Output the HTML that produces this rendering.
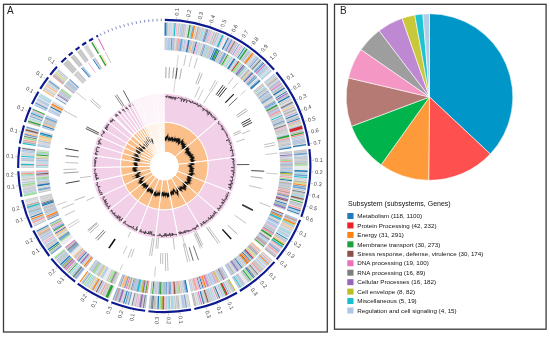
<!DOCTYPE html>
<html><head><meta charset="utf-8"><style>
html,body{margin:0;padding:0;background:#fff;width:550px;height:337px;overflow:hidden;}
</style></head><body>
<svg width="550" height="337" viewBox="0 0 550 337" style="position:absolute;left:0;top:0">
<rect x="3.5" y="4.3" width="323.8" height="327.7" fill="none" stroke="#3a3a3a" stroke-width="1.3"/>
<rect x="334.5" y="4.3" width="211.6" height="324.9" fill="none" stroke="#3a3a3a" stroke-width="1.3"/>
<path fill="#e9ebee" d="M164.7 37.4A128.6 128.6 0 0 1 261.0 81.2L251.4 89.6A115.8 115.8 0 0 0 164.7 50.2ZM164.8 22.4A143.6 143.6 0 0 1 272.3 71.3L262.0 80.3A130.0 130.0 0 0 0 164.8 36.0ZM262.9 83.4A128.6 128.6 0 0 1 291.7 148.2L279.0 150.0A115.8 115.8 0 0 0 253.1 91.6ZM274.4 73.8A143.6 143.6 0 0 1 306.5 146.1L293.1 148.0A130.0 130.0 0 0 0 264.0 82.5ZM292.0 151.1A128.6 128.6 0 0 1 284.9 210.7L272.9 206.3A115.8 115.8 0 0 0 279.3 152.6ZM306.9 149.4A143.6 143.6 0 0 1 298.9 215.9L286.2 211.2A130.0 130.0 0 0 0 293.4 150.9ZM283.8 213.4A128.6 128.6 0 0 1 263.2 248.2L253.3 240.0A115.8 115.8 0 0 0 271.9 208.7ZM297.8 219.0A143.6 143.6 0 0 1 274.7 257.8L264.2 249.1A130.0 130.0 0 0 0 285.1 214.0ZM261.3 250.5A128.6 128.6 0 0 1 230.8 276.1L224.2 265.1A115.8 115.8 0 0 0 251.6 242.0ZM272.6 260.3A143.6 143.6 0 0 1 238.6 288.9L231.5 277.3A130.0 130.0 0 0 0 262.3 251.4ZM228.3 277.5A128.6 128.6 0 0 1 190.7 291.9L188.1 279.3A115.8 115.8 0 0 0 221.9 266.4ZM235.8 290.5A143.6 143.6 0 0 1 193.8 306.5L191.0 293.2A130.0 130.0 0 0 0 229.0 278.8ZM187.8 292.4A128.6 128.6 0 0 1 150.3 293.8L151.7 281.1A115.8 115.8 0 0 0 185.5 279.8ZM190.6 307.2A143.6 143.6 0 0 1 148.7 308.7L150.1 295.2A130.0 130.0 0 0 0 188.1 293.8ZM147.4 293.5A128.6 128.6 0 0 1 117.7 285.9L122.3 273.9A115.8 115.8 0 0 0 149.1 280.8ZM145.4 308.4A143.6 143.6 0 0 1 112.3 299.8L117.2 287.2A130.0 130.0 0 0 0 147.2 294.9ZM115.0 284.8A128.6 128.6 0 0 1 88.1 269.6L95.7 259.3A115.8 115.8 0 0 0 119.9 272.9ZM109.2 298.6A143.6 143.6 0 0 1 79.2 281.7L87.2 270.7A130.0 130.0 0 0 0 114.4 286.1ZM85.7 267.8A128.6 128.6 0 0 1 64.9 247.5L74.8 239.4A115.8 115.8 0 0 0 93.6 257.7ZM76.6 279.7A143.6 143.6 0 0 1 53.3 257.1L63.8 248.4A130.0 130.0 0 0 0 84.9 268.9ZM63.0 245.3A128.6 128.6 0 0 1 49.0 222.9L60.4 217.2A115.8 115.8 0 0 0 73.1 237.4ZM51.2 254.5A143.6 143.6 0 0 1 35.5 229.5L47.7 223.5A130.0 130.0 0 0 0 61.9 246.1ZM47.7 220.2A128.6 128.6 0 0 1 39.2 195.9L51.7 192.9A115.8 115.8 0 0 0 59.3 214.8ZM34.1 226.6A143.6 143.6 0 0 1 24.6 199.4L37.9 196.2A130.0 130.0 0 0 0 46.4 220.8ZM38.6 193.1A128.6 128.6 0 0 1 35.8 170.6L48.6 170.1A115.8 115.8 0 0 0 51.1 190.4ZM23.9 196.2A143.6 143.6 0 0 1 20.8 171.1L34.4 170.7A130.0 130.0 0 0 0 37.2 193.4ZM35.7 167.7A128.6 128.6 0 0 1 36.8 149.1L49.5 150.8A115.8 115.8 0 0 0 48.5 167.5ZM20.7 167.9A143.6 143.6 0 0 1 21.9 147.1L35.4 148.9A130.0 130.0 0 0 0 34.3 167.7ZM37.2 146.2A128.6 128.6 0 0 1 40.8 130.2L53.1 133.8A115.8 115.8 0 0 0 49.9 148.2ZM22.4 143.9A143.6 143.6 0 0 1 26.4 126.1L39.4 129.8A130.0 130.0 0 0 0 35.8 146.0ZM41.6 127.4A128.6 128.6 0 0 1 46.6 114.2L58.3 119.4A115.8 115.8 0 0 0 53.8 131.3ZM27.3 122.9A143.6 143.6 0 0 1 32.9 108.2L45.3 113.6A130.0 130.0 0 0 0 40.3 127.0ZM47.8 111.5A128.6 128.6 0 0 1 53.6 100.6L64.6 107.1A115.8 115.8 0 0 0 59.4 117.0ZM34.2 105.2A143.6 143.6 0 0 1 40.6 93.0L52.3 99.9A130.0 130.0 0 0 0 46.5 111.0ZM55.1 98.1A128.6 128.6 0 0 1 62.1 88.0L72.2 95.7A115.8 115.8 0 0 0 65.9 104.9ZM42.3 90.2A143.6 143.6 0 0 1 50.1 78.9L61.0 87.1A130.0 130.0 0 0 0 53.9 97.4ZM63.9 85.7A128.6 128.6 0 0 1 69.9 78.7L79.3 87.4A115.8 115.8 0 0 0 73.9 93.7ZM52.2 76.3A143.6 143.6 0 0 1 58.9 68.5L68.8 77.8A130.0 130.0 0 0 0 62.8 84.8Z"/>
<path fill="#c4c4c4" d="M63.1 64.1A143.6 143.6 0 0 1 67.8 59.6L77.0 69.7A130.0 130.0 0 0 0 72.7 73.8ZM70.5 57.3A143.6 143.6 0 0 1 74.1 54.2L82.7 64.8A130.0 130.0 0 0 0 79.4 67.6Z"/>
<path fill="#cfcfcf" d="M73.7 74.7A128.6 128.6 0 0 1 77.9 70.7L86.5 80.2A115.8 115.8 0 0 0 82.7 83.8Z"/>
<path fill="#c6c6c6" d="M77.1 51.9A143.6 143.6 0 0 1 80.9 49.1L88.8 60.2A130.0 130.0 0 0 0 85.3 62.7Z"/>
<path fill="#dadada" d="M83.6 47.2A143.6 143.6 0 0 1 87.6 44.6L94.8 56.1A130.0 130.0 0 0 0 91.2 58.5Z"/>
<path stroke="#c7c7c7" stroke-width="1.0" d="M165.1 50.0L165.2 37.6M183.9 51.7L186.0 39.5M193.5 39.1L196.5 26.3M223.5 50.0L229.5 38.3M236.1 57.4L243.4 46.4M265.3 83.8L275.5 75.5M270.0 90.0L280.8 82.3M278.9 104.1L290.5 97.8M291.9 140.0L304.8 137.4M292.5 188.7L305.5 191.0M290.7 197.4L303.5 200.6M268.7 216.6L279.8 222.0M226.5 263.9L233.1 274.4M257.4 257.0L266.9 266.2M247.3 266.3L255.8 276.5M190.2 279.1L192.9 291.2M180.2 280.9L181.9 293.2M156.1 281.7L155.2 294.1M187.7 294.1L190.1 307.1M130.2 291.7L126.8 304.4M124.4 289.9L120.4 302.5M118.5 272.6L113.6 284.0M110.6 284.6L105.2 296.6M94.5 275.9L87.4 287.0M79.8 265.1L71.3 275.1M56.5 208.8L45.0 213.4M52.2 196.0L40.3 199.2M69.9 98.6L59.8 91.4"/>
<path stroke="#aec7e8" stroke-width="1.0" d="M166.1 50.0L166.3 37.6M207.8 58.5L212.5 47.0M169.7 35.9L170.2 22.7M291.6 138.6L304.5 135.8M266.7 220.5L277.6 226.3M250.8 243.3L260.1 251.5M250.6 263.5L259.4 273.4M210.0 272.6L214.9 284.0M188.8 279.4L191.5 291.5M158.9 281.9L158.4 294.3M106.9 266.8L100.7 277.6M98.1 278.1L91.4 289.5M84.4 268.8L76.3 279.2M56.1 238.5L45.2 245.8M55.2 237.1L44.2 244.3M52.7 233.1L41.4 239.9M36.2 189.3L23.2 191.7M34.8 152.9L21.6 151.6M59.4 116.5L48.2 111.2M63.5 108.7L52.7 102.6M48.6 106.2L36.9 100.2M57.7 91.2L46.9 83.7M90.9 76.2L83.0 66.6M100.9 68.9L94.1 58.5"/>
<path stroke="#c7c7c7" stroke-width="1.4" d="M167.7 50.1L168.1 37.7M205.0 57.4L209.4 45.8M177.8 36.5L179.2 23.4M251.1 69.0L259.9 59.1M253.5 91.8L263.0 83.9M257.4 96.8L267.4 89.4M275.2 132.0L287.1 128.3M275.6 133.4L287.5 129.9M278.4 145.1L290.6 142.9M279.5 105.4L291.2 99.3M292.4 142.5L305.3 140.1M279.6 153.0L291.9 151.6M280.2 170.2L292.6 170.6M280.7 224.4L292.5 230.3M274.6 235.2L285.8 242.2M243.0 251.2L251.4 260.4M248.3 265.5L256.8 275.6M206.1 274.2L210.6 285.8M205.6 289.5L209.8 302.0M201.1 290.9L204.9 303.5M157.4 281.8L156.7 294.2M176.3 295.6L177.5 308.8M150.6 295.5L149.2 308.6M82.6 267.4L74.3 277.6M68.0 253.7L58.3 262.5M55.7 206.8L44.1 211.2M52.9 198.4L41.0 201.9M49.4 182.2L37.2 184.0M34.7 178.4L21.5 179.6M40.2 126.5L27.7 122.5M42.8 119.3L30.5 114.5M58.8 89.7L48.1 82.0M76.2 90.5L66.8 82.5"/>
<path stroke="#aec7e8" stroke-width="1.6" d="M168.7 50.1L169.2 37.7M172.4 50.3L173.3 37.9M181.2 51.2L183.0 39.0M182.5 37.1L184.3 24.0M213.7 45.6L218.8 33.3M265.9 110.0L276.8 104.0M289.1 128.9L301.8 125.2M292.6 143.6L305.6 141.3M280.3 168.6L292.7 168.9M271.4 210.4L282.9 215.2M266.1 221.6L277.0 227.5M285.1 214.5L297.4 219.4M282.3 221.1L294.2 226.7M233.1 259.4L240.4 269.4M225.4 264.6L232.0 275.1M141.6 279.8L139.2 291.9M136.8 278.7L133.9 290.7M51.8 231.5L40.4 238.2M44.1 216.1L31.9 221.1M48.5 171.9L36.1 172.6M46.5 110.5L34.6 104.8"/>
<path stroke="#b8c4d0" stroke-width="1.0" d="M169.7 50.1L170.3 37.7M202.7 56.5L206.8 44.8M229.2 69.9L236.2 59.6M197.8 40.2L201.2 27.4M234.9 56.6L242.1 45.5M273.0 94.3L284.0 87.0M279.7 154.1L292.0 152.9M274.8 201.4L286.6 205.2M292.0 191.2L305.0 193.8M245.8 248.5L254.6 257.3M219.0 284.2L224.5 296.1M174.5 295.8L175.6 309.0M118.7 288.0L114.1 300.3M89.2 272.4L81.6 283.2M68.8 254.5L59.1 263.5M67.2 229.5L56.8 236.3M55.3 205.6L43.6 209.9M50.5 188.5L38.3 191.0M50.2 186.7L38.0 188.9M38.0 134.3L25.2 131.1M67.0 79.5L57.1 70.7M67.9 78.5L58.1 69.7"/>
<path stroke="#17becf" stroke-width="1.0" d="M171.1 50.2L171.8 37.8M270.9 120.2L282.3 115.3M233.7 276.2L240.7 287.3M169.0 281.9L169.5 294.3M51.8 137.5L39.8 134.5"/>
<path stroke="#c5b0d5" stroke-width="1.1" d="M173.4 50.4L174.4 38.0M220.3 64.4L226.3 53.6M230.9 54.1L237.7 42.8M137.9 293.5L135.3 306.4"/>
<path stroke="#d6d6d6" stroke-width="1.0" d="M174.4 50.4L175.5 38.1M187.6 52.4L190.0 40.2M197.6 54.9L201.1 43.0M249.0 86.7L258.0 78.2M185.9 37.6L188.1 24.6M216.2 46.6L221.5 34.5M270.4 119.2L281.8 114.2M276.5 136.4L288.4 133.2M280.4 107.0L292.1 101.0M294.1 156.4L307.3 155.5M294.4 172.0L307.5 172.6M240.3 271.7L248.0 282.5M119.4 273.0L114.6 284.4M38.7 200.3L26.0 203.7M38.3 198.6L25.5 201.9M34.8 179.5L21.7 180.8M49.2 151.6L36.9 150.0M34.6 154.3L21.5 153.1M38.6 132.0L25.9 128.5M60.8 113.6L49.7 108.1M50.1 103.5L38.5 97.2M55.7 94.2L44.7 86.9"/>
<path stroke="#c7c7c7" stroke-width="1.1" d="M175.8 50.6L177.0 38.2M192.2 53.4L195.1 41.4M245.9 83.5L254.6 74.7M184.0 37.3L186.0 24.3M199.2 40.6L202.8 27.9M243.7 62.8L251.7 52.3M264.0 106.8L274.7 100.5M271.9 122.7L283.4 118.0M276.1 135.0L288.0 131.6M266.1 84.9L276.5 76.7M292.8 144.7L305.8 142.6M278.5 186.1L290.8 188.3M294.4 160.2L307.6 159.6M262.2 251.8L272.1 260.6M191.8 278.7L194.8 290.7M226.4 280.4L232.7 292.0M196.7 292.1L200.0 304.9M181.7 280.7L183.6 292.9M171.1 296.0L171.8 309.2M146.3 280.6L144.4 292.9M125.9 290.4L122.0 303.0M103.4 264.7L96.9 275.3M109.4 284.0L103.8 296.0M95.7 276.6L88.7 287.9M57.6 240.6L46.8 248.2M51.8 194.4L39.8 197.4M42.2 211.2L29.8 215.7M50.8 190.0L38.7 192.6M35.4 184.7L22.4 186.6M55.5 125.6L43.9 121.3M54.9 95.4L43.8 88.3M74.7 92.3L65.1 84.4M77.5 89.0L68.3 80.8"/>
<path stroke="#ff9896" stroke-width="1.4" d="M177.1 50.7L178.5 38.4M269.1 116.2L280.3 110.9M251.8 262.5L260.6 272.2"/>
<path stroke="#b5b5b5" stroke-width="1.1" d="M178.5 50.9L180.0 38.6M200.1 55.7L203.9 43.9M269.4 215.1L280.6 220.3M263.9 225.4L274.6 231.8M193.1 293.0L196.0 305.9M177.7 295.5L179.1 308.6M169.2 296.1L169.7 309.3M104.5 265.4L98.1 276.0M76.1 261.8L67.2 271.5M54.9 204.5L43.2 208.6M56.4 123.4L44.9 118.8M68.4 100.7L58.1 93.8"/>
<path stroke="#6fa0d0" stroke-width="1.6" d="M179.9 51.1L181.6 38.8M219.3 63.9L225.2 53.0M225.7 51.2L231.9 39.5M274.1 203.5L285.8 207.5M294.0 154.6L307.1 153.4M292.8 186.8L305.9 188.9M160.0 281.9L159.6 294.3M152.4 295.7L151.2 308.8M68.9 232.0L58.7 239.0M37.3 137.2L24.5 134.3M47.4 108.7L35.5 102.9"/>
<path stroke="#aec7e8" stroke-width="1.2" d="M182.9 51.5L184.9 39.3M196.1 54.5L199.6 42.5M208.7 58.8L213.4 47.4M179.7 36.7L181.3 23.6M224.5 50.6L230.6 38.9M260.3 100.9L270.6 94.0M264.4 82.7L274.6 74.3M280.3 165.6L292.7 165.6M280.2 171.4L292.6 172.0M230.0 261.6L237.0 271.9M221.7 266.8L227.8 277.6M217.7 284.8L223.1 296.8M208.0 288.7L212.4 301.1M183.1 280.5L185.1 292.7M108.0 267.4L102.0 278.3M100.8 279.7L94.4 291.2M89.8 254.9L81.9 264.5M65.3 250.6L55.3 259.1M63.1 222.8L52.3 228.8M34.9 151.6L21.8 150.1M57.4 120.9L46.0 116.0M75.5 91.4L66.0 83.4"/>
<path stroke="#f7b6d2" stroke-width="1.2" d="M185.4 51.9L187.7 39.8"/>
<path stroke="#1f77b4" stroke-width="1.4" d="M186.6 52.2L189.0 40.0M211.7 60.1L216.8 48.8M165.2 35.8L165.3 22.6M273.5 95.1L284.6 88.0M278.0 102.6L289.6 96.2M294.4 170.8L307.6 171.3M185.1 280.1L187.4 292.3M70.0 255.7L60.4 264.8M58.6 242.1L47.9 249.8"/>
<path stroke="#b8c4d0" stroke-width="1.4" d="M188.5 52.6L191.1 40.4M191.2 53.2L194.1 41.1M234.8 73.9L242.3 64.0M209.9 44.1L214.6 31.7M261.0 101.9L271.3 95.0M271.5 121.8L283.0 117.0M290.2 132.7L302.9 129.4M294.4 161.7L307.6 161.2M255.0 238.3L264.7 246.0M283.9 217.6L296.0 222.8M241.4 270.9L249.3 281.5M236.2 274.5L243.5 285.5M232.5 276.9L239.5 288.1M152.1 281.4L150.8 293.7M96.6 260.2L89.4 270.3M49.2 180.7L36.9 182.3M50.5 143.3L38.4 140.9"/>
<path stroke="#ffbb78" stroke-width="1.0" d="M189.6 52.8L192.3 40.7M282.2 110.7L294.1 105.1M50.9 141.6L38.8 139.0"/>
<path stroke="#1f77b4" stroke-width="1.1" d="M193.4 53.7L196.5 41.7M213.9 61.2L219.3 50.0M222.4 49.5L228.3 37.7M285.7 118.9L298.0 114.1M287.1 122.8L299.6 118.4M293.0 146.6L306.1 144.6M279.6 179.2L291.9 180.6M234.6 258.3L242.1 268.1M214.6 286.1L219.7 298.3M200.1 291.2L203.7 303.9M127.3 290.8L123.6 303.5M86.5 252.1L78.2 261.3M65.7 227.1L55.1 233.6M53.6 200.7L41.8 204.4M42.8 212.8L30.5 217.5M54.2 129.4L42.4 125.5M61.4 112.4L50.4 106.7"/>
<path stroke="#f7b6d2" stroke-width="1.4" d="M194.6 54.0L197.8 42.1M274.8 130.7L286.6 126.9M164.8 296.2L164.9 309.4M139.5 293.8L137.0 306.8M44.2 115.7L32.1 110.6"/>
<path stroke="#d6d6d6" stroke-width="1.4" d="M198.6 55.2L202.2 43.3M168.6 35.9L169.0 22.7M247.4 65.8L255.8 55.6M274.6 96.7L285.7 89.7M266.8 246.2L277.2 254.4M247.4 246.9L256.3 255.6M228.6 262.5L235.5 272.9M34.5 176.7L21.4 177.8M34.1 167.2L20.9 167.4M52.5 134.9L40.6 131.6"/>
<path stroke="#6fa0d0" stroke-width="1.1" d="M201.3 56.0L205.2 44.3M237.1 75.7L244.9 66.1M204.1 42.0L208.1 29.5M268.7 243.8L279.2 251.7M184.2 280.3L186.4 292.5M134.3 278.1L131.1 290.0M78.5 244.0L69.3 252.4M77.7 243.2L68.4 251.4M50.3 187.6L38.1 189.9"/>
<path stroke="#9edae5" stroke-width="1.6" d="M203.9 57.0L208.1 45.3M238.6 59.1L246.1 48.2M291.3 194.5L304.2 197.4M279.3 227.1L290.9 233.3M172.2 296.0L173.0 309.1M168.1 296.1L168.5 309.3M93.2 275.1L86.0 286.1M41.4 208.9L28.9 213.2"/>
<path stroke="#d6d6d6" stroke-width="1.1" d="M205.9 57.7L210.4 46.1M226.8 68.3L233.5 57.9M208.3 43.5L212.7 31.0M212.8 45.2L217.7 32.9M240.5 60.4L248.2 49.7M277.3 139.8L289.4 137.0M283.5 113.5L295.5 108.2M284.4 115.7L296.6 110.6M280.1 158.8L292.5 158.0M273.4 205.4L285.1 209.6M293.8 179.1L307.0 180.4M259.9 231.7L270.1 238.8M279.8 226.0L291.5 232.1M270.3 241.6L281.1 249.3M202.8 275.4L206.9 287.1M216.3 285.3L221.6 297.4M194.9 292.6L198.0 305.4M105.5 282.2L99.6 294.0M45.3 218.9L33.3 224.3M41.1 123.9L28.6 119.6"/>
<path stroke="#c7c7c7" stroke-width="1.6" d="M206.8 58.1L211.4 46.5M215.5 61.9L220.9 50.8M181.0 36.9L182.7 23.8M196.4 39.8L199.7 27.0M229.6 53.3L236.2 41.9M259.8 100.1L270.0 93.1M262.3 103.9L272.8 97.3M267.0 112.0L277.9 106.2M269.8 117.8L281.1 112.6M273.4 126.7L285.1 122.5M278.0 143.1L290.2 140.7M280.3 166.9L292.7 167.0M280.0 174.9L292.3 175.8M279.0 183.1L291.3 185.0M293.8 152.8L307.0 151.4M294.3 158.7L307.5 157.9M291.7 192.9L304.6 195.6M254.0 260.3L263.1 269.9M252.9 261.4L261.8 271.1M202.9 290.4L206.8 303.0M176.2 281.4L177.4 293.7M182.6 294.9L184.4 308.0M108.2 283.5L102.5 295.4M66.5 251.9L56.6 260.6M60.5 244.6L50.0 252.6M56.7 239.4L45.8 246.8M50.9 229.9L39.4 236.4M49.0 226.5L37.3 232.7M40.1 204.9L27.5 208.9M35.9 187.5L22.9 189.7M70.5 97.8L60.4 90.5"/>
<path stroke="#1f77b4" stroke-width="1.0" d="M210.2 59.5L215.2 48.1M247.8 85.5L256.8 76.9M237.4 58.3L244.8 47.3M254.9 72.5L264.1 63.0M275.5 98.2L286.8 91.4M280.1 172.4L292.5 173.1M275.1 200.5L286.9 204.1M287.0 209.7L299.4 214.1M276.1 232.7L287.5 239.4M242.2 252.0L250.5 261.2M199.4 276.6L203.2 288.4M196.9 277.3L200.4 289.2M48.4 225.3L36.6 231.3M43.3 118.0L31.0 113.1M89.4 77.4L81.4 68.0M99.9 69.5L93.0 59.2"/>
<path stroke="#2ca02c" stroke-width="1.2" d="M212.8 60.6L218.0 49.3M290.9 135.7L303.8 132.6M161.0 282.0L160.6 294.3"/>
<path stroke="#b5b5b5" stroke-width="1.0" d="M216.9 62.6L222.6 51.6M242.4 61.8L250.3 51.3M254.5 93.0L264.1 85.2M278.6 146.4L290.8 144.3M289.7 201.0L302.4 204.5M220.3 267.6L226.3 278.4M192.0 293.2L194.8 306.1M48.3 165.4L35.9 165.4M48.5 159.1L36.1 158.4"/>
<path stroke="#aec7e8" stroke-width="1.1" d="M218.2 63.3L224.0 52.3M230.6 70.8L237.6 60.6M238.9 77.2L246.9 67.7M201.9 41.3L205.7 28.7M258.9 98.9L269.1 91.8M278.9 148.1L291.2 146.2M281.4 109.2L293.3 103.4M292.2 141.4L305.1 138.9M294.2 157.5L307.4 156.6M258.3 234.0L268.3 241.3M257.3 235.3L267.3 242.7M278.7 228.3L290.2 234.6M258.2 256.2L267.7 265.3M256.1 258.3L265.4 267.7M216.8 269.4L222.4 280.5M208.7 273.2L213.5 284.6M207.7 273.6L212.3 285.1M120.7 288.7L116.3 301.1M101.1 263.3L94.3 273.7M98.0 261.2L90.9 271.3M67.3 252.8L57.5 261.6M57.0 210.1L45.5 214.8M40.5 206.4L28.0 210.5M49.7 147.8L37.5 145.8M49.9 146.5L37.7 144.5"/>
<path stroke="#2ca02c" stroke-width="1.1" d="M221.7 65.2L227.8 54.4M242.8 269.9L250.8 280.4M220.5 283.5L226.2 295.4M153.8 281.5L152.7 293.9M147.6 280.8L145.8 293.1"/>
<path stroke="#98df8a" stroke-width="1.0" d="M222.6 65.7L228.9 55.0M237.9 76.3L245.7 66.7M279.7 178.1L292.0 179.4M113.8 270.4L108.4 281.6"/>
<path stroke="#d6d6d6" stroke-width="1.6" d="M224.0 66.5L230.4 55.9M274.0 128.2L285.7 124.2M278.2 144.1L290.4 141.8M267.7 86.8L278.2 78.8M276.6 195.1L288.6 198.2M293.9 178.1L307.1 179.3M173.5 295.9L174.4 309.0M157.5 296.0L156.8 309.2M136.5 293.2L133.7 306.1M102.4 264.1L95.8 274.6M114.0 286.1L108.8 298.2M90.6 255.6L82.7 265.1M87.7 253.1L79.5 262.4M52.6 197.3L40.7 200.7M38.0 197.4L25.1 200.6M48.7 176.1L36.4 177.2M35.7 186.0L22.6 188.1M34.2 171.8L21.0 172.4M50.2 144.9L38.0 142.7"/>
<path stroke="#9edae5" stroke-width="1.2" d="M225.4 67.4L231.9 56.9M200.5 40.9L204.1 28.2M294.3 173.1L307.5 173.9M78.6 264.0L69.9 274.0M48.3 167.1L35.9 167.2M51.5 101.0L40.1 94.4"/>
<path stroke="#1f77b4" stroke-width="1.6" d="M227.9 69.0L234.7 58.6M244.1 81.8L252.7 72.9M250.8 88.8L260.1 80.5M49.7 183.7L37.4 185.6"/>
<path stroke="#d62728" stroke-width="1.2" d="M231.6 71.5L238.8 61.4M244.8 249.5L253.4 258.4"/>
<path stroke="#98df8a" stroke-width="1.4" d="M232.4 72.1L239.7 62.1M294.5 165.0L307.7 164.9M165.3 282.0L165.4 294.4M160.4 296.1L160.0 309.3M100.2 262.7L93.4 273.0M70.3 234.0L60.3 241.3M35.2 183.2L22.2 185.0"/>
<path stroke="#98df8a" stroke-width="1.1" d="M233.4 72.8L240.8 62.9M280.2 160.7L292.6 160.2M282.8 220.0L294.8 225.5M244.3 268.7L252.4 279.2M177.5 281.2L179.0 293.6M115.0 271.0L109.7 282.2M61.4 219.6L50.4 225.4M34.4 174.3L21.2 175.1M71.2 96.8L61.3 89.3"/>
<path stroke="#9467bd" stroke-width="1.4" d="M236.0 74.8L243.7 65.1M88.7 254.0L80.6 263.4"/>
<path stroke="#d6d6d6" stroke-width="1.2" d="M240.1 78.2L248.2 68.8M171.3 36.0L172.0 22.8M215.3 46.2L220.4 34.0M263.2 105.3L273.7 98.8M279.4 180.6L291.7 182.2M275.5 199.1L287.4 202.6M260.7 230.6L271.0 237.5M254.9 259.5L264.1 269.0M194.7 277.9L198.0 289.9M171.2 281.8L171.9 294.2M186.0 294.4L188.2 307.4M133.1 277.7L129.7 289.7M49.9 185.3L37.7 187.3M48.4 161.7L36.0 161.2M47.9 107.6L36.1 101.7"/>
<path stroke="#b5b5b5" stroke-width="1.6" d="M241.1 79.1L249.3 69.8M283.9 114.6L296.1 109.4M279.2 182.0L291.5 183.7M274.5 202.3L286.2 206.2M248.1 246.2L257.1 254.8M139.3 279.3L136.6 291.4M117.0 271.9L111.9 283.2M73.9 259.7L64.8 269.2M50.2 228.7L38.6 235.1M41.0 207.9L28.5 212.1M36.0 144.0L23.0 141.7M63.7 83.4L53.5 75.0"/>
<path stroke="#dbdb8d" stroke-width="1.2" d="M242.0 79.9L250.3 70.7"/>
<path stroke="#c5b0d5" stroke-width="1.6" d="M243.2 81.0L251.7 71.9M219.1 268.2L225.0 279.2M211.3 272.0L216.3 283.4"/>
<path stroke="#f7b6d2" stroke-width="1.1" d="M244.9 82.6L253.5 73.6M175.9 36.3L177.1 23.2M218.6 47.7L224.1 35.7M234.0 56.0L241.1 44.9M265.5 222.7L276.3 228.8M211.3 287.4L216.0 299.7M48.3 164.3L35.9 164.1"/>
<path stroke="#6fa0d0" stroke-width="1.2" d="M246.8 84.5L255.6 75.7M166.7 35.8L166.9 22.6M190.6 38.5L193.3 25.6M249.7 67.7L258.3 57.7M254.1 71.7L263.2 62.1M264.6 107.7L275.3 101.5M276.9 193.9L288.9 196.9M293.1 185.1L306.1 187.0M263.1 226.8L273.7 233.3M184.3 294.6L186.4 307.7M131.6 292.0L128.3 304.8M129.1 291.3L125.5 304.1M83.5 268.1L75.3 278.4M69.7 233.1L59.6 240.3M59.0 214.6L47.7 219.8M39.0 130.7L26.3 127.1M59.5 88.7L48.9 80.8M78.7 87.7L69.5 79.4"/>
<path stroke="#6fa0d0" stroke-width="1.0" d="M250.0 87.8L259.2 79.5M232.5 55.1L239.4 43.9M258.4 98.2L268.4 90.9M265.2 108.7L275.9 102.6M268.1 217.8L279.2 223.3M248.9 245.4L257.9 253.9M223.0 282.2L229.0 294.0M170.2 281.8L170.8 294.2M166.5 282.0L166.7 294.4M164.0 282.0L164.0 294.4M124.4 274.9L120.1 286.6M117.7 287.6L113.0 299.9M90.2 273.0L82.7 283.9M60.8 218.4L49.8 224.0M42.2 120.8L29.8 116.2M66.0 104.4L55.5 97.9M90.1 76.8L82.2 67.3"/>
<path stroke="#c7c7c7" stroke-width="1.2" d="M173.1 36.1L174.0 22.9M245.9 64.5L254.2 54.3M258.9 76.6L268.5 67.5M286.3 120.5L298.7 115.9M288.3 126.2L300.9 122.2M280.1 159.7L292.5 159.1M293.7 151.4L306.8 149.9M289.0 203.3L301.7 207.1M237.0 256.4L244.7 266.1M214.3 270.7L219.7 281.9M198.2 276.9L201.9 288.8M224.7 281.3L230.8 293.0M206.7 289.1L211.0 301.6M174.9 281.5L176.1 293.9M156.1 295.9L155.3 309.1M143.7 294.6L141.6 307.6M112.4 269.8L106.9 280.9M84.1 249.8L75.5 258.7M53.3 234.1L42.1 241.0M54.4 203.2L42.7 207.2M36.4 190.5L23.5 193.0M34.1 165.6L20.9 165.6M34.5 155.5L21.4 154.5M64.6 82.2L54.5 73.7"/>
<path stroke="#17becf" stroke-width="1.1" d="M174.2 36.2L175.2 23.0M34.1 164.5L20.9 164.4M34.4 157.2L21.2 156.3"/>
<path stroke="#2ca02c" stroke-width="1.4" d="M187.7 37.9L190.1 24.9M239.5 59.7L247.1 48.9M266.4 111.0L277.3 105.1M111.6 285.0L106.2 297.1M40.6 125.2L28.1 121.1"/>
<path stroke="#9edae5" stroke-width="1.4" d="M189.5 38.3L192.1 25.3M257.0 74.6L266.4 65.4M234.9 275.4L242.1 286.5M209.7 288.0L214.3 300.4M80.7 265.9L72.3 276.0M43.7 117.0L31.5 112.0M50.7 102.4L39.1 96.0"/>
<path stroke="#ff7f0e" stroke-width="1.4" d="M191.7 38.7L194.5 25.8M283.3 218.9L295.4 224.2M239.4 254.4L247.4 263.9M99.2 278.8L92.6 290.2M91.9 256.7L84.2 266.3M62.7 110.1L51.8 104.1"/>
<path stroke="#c49c94" stroke-width="1.0" d="M195.2 39.5L198.3 26.7M211.7 44.8L216.6 32.5M267.6 113.2L278.6 107.5M213.0 286.7L218.0 299.0M61.9 220.6L51.0 226.4"/>
<path stroke="#7f7f7f" stroke-width="1.0" d="M203.1 41.7L207.0 29.1M292.2 190.2L305.2 192.7M271.0 211.4L282.4 216.3M246.5 266.9L254.9 277.2M135.0 292.9L132.0 305.7M116.0 271.5L110.8 282.7M53.3 199.8L41.5 203.4M36.9 139.0L24.0 136.3"/>
<path stroke="#aec7e8" stroke-width="1.4" d="M205.5 42.5L209.7 30.0M241.5 61.2L249.3 50.5M248.4 66.6L256.9 56.5M258.0 75.6L267.5 66.5M261.4 79.2L271.2 70.4M268.1 114.2L279.2 108.6M276.8 137.8L288.8 134.8M268.8 88.3L279.4 80.4M280.3 163.1L292.7 162.8M287.5 208.2L299.9 212.5M267.5 219.0L278.5 224.7M238.3 255.3L246.2 264.9M181.4 295.1L183.2 308.2M137.9 279.0L135.1 291.0M146.7 295.0L145.0 308.1M104.0 281.4L97.9 293.1M41.8 210.2L29.4 214.7M48.4 160.8L36.0 160.2M48.9 154.4L36.5 153.2M34.3 159.1L21.1 158.4M53.8 130.8L41.9 127.1M60.1 115.0L49.0 109.6M49.2 105.1L37.6 98.9M69.3 99.5L59.1 92.3M76.9 89.8L67.5 81.6"/>
<path stroke="#f7b6d2" stroke-width="1.6" d="M207.0 43.0L211.4 30.5M227.2 52.0L233.6 40.5M212.3 271.6L217.4 282.9M196.0 277.6L199.3 289.5M62.7 221.9L51.8 227.9M54.3 235.7L43.2 242.8"/>
<path stroke="#17becf" stroke-width="1.6" d="M217.4 47.1L222.8 35.1M269.9 214.1L281.2 219.2M140.3 279.5L137.7 291.6"/>
<path stroke="#7f7f7f" stroke-width="1.1" d="M228.4 52.7L235.0 41.2M259.2 232.7L269.4 239.8M249.4 264.6L258.0 274.6M218.1 268.8L223.8 279.8"/>
<path stroke="#ff7f0e" stroke-width="1.6" d="M244.7 63.6L252.9 53.2"/>
<path stroke="#7f7f7f" stroke-width="1.2" d="M251.9 69.7L260.8 59.9M274.3 129.1L286.0 125.2M153.5 295.8L152.4 308.9M145.3 294.8L143.4 307.9M35.1 150.1L22.0 148.4"/>
<path stroke="#9edae5" stroke-width="1.0" d="M252.9 70.6L261.9 61.0M260.1 77.9L269.9 68.9M271.5 92.2L282.4 84.7M49.0 179.0L36.7 180.4"/>
<path stroke="#e377c2" stroke-width="1.4" d="M256.1 73.6L265.4 64.3"/>
<path stroke="#9edae5" stroke-width="1.1" d="M255.4 94.2L265.2 86.6M277.1 231.0L288.5 237.6M36.7 191.7L23.7 194.3M34.4 175.3L21.3 176.3M48.3 163.1L35.9 162.8M41.6 122.6L29.1 118.2"/>
<path stroke="#b5b5b5" stroke-width="1.2" d="M256.5 95.6L266.3 88.1M272.2 93.2L283.2 85.8M277.2 101.1L288.6 94.5M282.9 112.3L294.9 106.8M290.6 134.3L303.4 131.1M278.3 187.3L290.5 189.6M294.5 163.4L307.7 163.2M232.0 260.2L239.2 270.3M227.3 263.4L234.1 273.8M155.0 295.9L154.0 309.0M141.2 294.1L138.9 307.1M93.1 257.6L85.5 267.4M75.7 240.9L66.2 248.9M74.0 93.2L64.3 85.5"/>
<path stroke="#6fa0d0" stroke-width="1.4" d="M261.7 103.1L272.2 96.3M272.9 125.3L284.5 120.9M294.2 174.8L307.4 175.7M244.0 250.3L252.6 259.3M128.4 276.3L124.6 288.1M71.2 257.1L61.8 266.3M63.7 223.8L53.0 230.0M61.5 245.9L51.1 254.0M56.8 122.3L45.3 117.7"/>
<path stroke="#c5b0d5" stroke-width="1.0" d="M268.6 115.3L279.8 109.9M237.4 273.8L244.8 284.7M204.9 274.7L209.2 286.3M161.9 282.0L161.6 294.4"/>
<path stroke="#b8c4d0" stroke-width="1.2" d="M272.3 123.7L283.9 119.2M289.4 202.1L302.1 205.7M277.8 229.7L289.4 236.2M275.3 234.1L286.5 241.0M235.8 257.3L243.5 267.1M233.9 258.8L241.3 268.8M79.2 244.8L70.1 253.2M46.1 220.5L34.1 226.0M48.9 178.1L36.6 179.4M35.0 181.3L21.9 182.9M55.9 124.8L44.3 120.4"/>
<path stroke="#2ca02c" stroke-width="1.6" d="M277.1 138.8L289.1 135.9M261.2 229.7L271.6 236.5M272.9 237.8L283.9 245.1M163.3 296.2L163.2 309.4M112.6 285.5L107.3 297.6"/>
<path stroke="#ff9896" stroke-width="1.2" d="M277.5 140.8L289.6 138.2M291.2 137.1L304.1 134.1M288.5 205.1L301.1 209.1M44.7 217.4L32.6 222.6M48.4 170.8L36.0 171.3M34.3 173.1L21.1 173.8M36.3 142.4L23.3 140.0"/>
<path stroke="#b8c4d0" stroke-width="1.1" d="M277.8 141.8L289.9 139.2M288.0 125.2L300.5 121.1M262.0 228.6L272.4 235.3M215.7 270.0L221.2 281.1M162.9 282.0L162.7 294.4M154.8 281.6L153.8 294.0M166.2 296.2L166.4 309.4M142.9 280.0L140.6 292.2M83.2 249.0L74.5 257.8"/>
<path stroke="#1f77b4" stroke-width="1.2" d="M279.1 149.5L291.4 147.7M288.0 206.7L300.5 210.9M245.6 267.7L253.8 278.0M158.5 296.1L158.0 309.3M54.0 201.8L42.2 205.6M52.2 136.3L40.2 133.1"/>
<path stroke="#b5b5b5" stroke-width="1.4" d="M267.0 86.0L277.4 77.9M280.3 164.5L292.7 164.3M293.6 181.0L306.8 182.5M256.7 236.1L266.6 243.6M265.0 248.6L275.2 256.9M135.5 278.4L132.4 290.4M99.0 261.9L92.1 272.2"/>
<path stroke="#c5b0d5" stroke-width="1.4" d="M269.4 89.2L280.1 81.4M285.0 117.1L297.2 112.1M269.5 242.7L280.2 250.5M48.6 174.6L36.3 175.5"/>
<path stroke="#e377c2" stroke-width="1.2" d="M270.8 91.0L281.6 83.4M130.0 276.8L126.4 288.7M74.9 239.9L65.3 247.8"/>
<path stroke="#9467bd" stroke-width="1.1" d="M276.4 99.7L287.7 93.0M279.8 155.8L292.2 154.7M273.7 204.4L285.4 208.5"/>
<path stroke="#7f7f7f" stroke-width="1.4" d="M280.9 108.1L292.7 102.2M76.7 242.1L67.4 250.2"/>
<path stroke="#b8c4d0" stroke-width="1.6" d="M286.7 121.7L299.1 117.2M280.0 157.2L292.3 156.2M278.8 184.8L291.0 186.8M264.7 224.2L275.4 230.4M259.8 254.5L269.5 263.4M227.6 279.8L234.0 291.3M123.2 274.5L118.8 286.1M122.0 289.1L117.7 301.6M56.1 207.9L44.6 212.4M34.2 160.6L21.0 160.0M55.1 126.8L43.5 122.6"/>
<path stroke="#ff9896" stroke-width="1.0" d="M287.6 124.2L300.1 119.9M280.2 161.7L292.6 161.2M279.8 176.5L292.2 177.6M278.0 188.9L290.2 191.4M261.0 253.2L270.8 262.0M62.9 84.3L52.6 76.0"/>
<path stroke="#dbdb8d" stroke-width="1.0" d="M288.6 127.3L301.2 123.3M130.9 277.1L127.3 289.0M51.2 140.1L39.1 137.3"/>
<path stroke="#d62728" stroke-width="1.6" d="M289.5 130.2L302.2 126.6M289.9 131.6L302.6 128.1"/>
<path stroke="#bcbd22" stroke-width="1.2" d="M280.1 173.3L292.4 174.1M72.1 257.9L62.8 267.3"/>
<path stroke="#c49c94" stroke-width="1.4" d="M277.7 190.4L289.8 193.0M256.0 237.1L265.7 244.7"/>
<path stroke="#f7b6d2" stroke-width="1.0" d="M277.4 191.8L289.5 194.5M65.1 226.1L54.5 232.5M95.5 72.6L88.2 62.6"/>
<path stroke="#c49c94" stroke-width="1.2" d="M277.2 192.8L289.2 195.7M131.9 277.4L128.5 289.3M39.2 202.0L26.5 205.7"/>
<path stroke="#9467bd" stroke-width="1.2" d="M276.2 196.5L288.2 199.8M230.9 260.9L238.1 271.1M73.0 258.8L63.7 268.2"/>
<path stroke="#8c564b" stroke-width="1.2" d="M275.9 197.7L287.8 201.0M204.2 289.9L208.2 302.5"/>
<path stroke="#17becf" stroke-width="1.2" d="M294.1 176.5L307.2 177.5M35.7 145.5L22.7 143.4"/>
<path stroke="#dbdb8d" stroke-width="1.6" d="M293.5 182.3L306.6 183.9M246.6 247.8L255.4 256.5M105.4 265.9L99.1 276.6M65.7 80.9L55.8 72.3"/>
<path stroke="#ff7f0e" stroke-width="1.0" d="M293.3 183.7L306.4 185.5M259.1 255.3L268.7 264.4"/>
<path stroke="#8c564b" stroke-width="1.4" d="M290.9 196.3L303.8 199.4M173.8 281.6L174.8 294.0M38.3 133.1L25.6 129.7"/>
<path stroke="#2ca02c" stroke-width="1.0" d="M290.2 199.2L302.9 202.6M254.5 239.0L264.1 246.8M77.4 263.0L68.6 272.8M64.3 224.7L53.6 231.0M59.6 243.4L49.0 251.2M48.7 155.9L36.4 154.9M44.8 114.4L32.6 109.2"/>
<path stroke="#8c564b" stroke-width="1.0" d="M272.0 209.2L283.5 213.8M240.2 253.7L248.3 263.1"/>
<path stroke="#ff7f0e" stroke-width="1.1" d="M270.6 212.5L281.9 217.5M241.2 252.9L249.4 262.1M162.0 296.2L161.8 309.4M87.8 271.3L80.0 282.0"/>
<path stroke="#ff9896" stroke-width="1.6" d="M262.5 227.7L273.0 234.3M193.5 278.3L196.6 290.3M148.7 280.9L147.0 293.2"/>
<path stroke="#c49c94" stroke-width="1.6" d="M284.6 215.9L296.8 221.0M119.7 288.3L115.2 300.7M58.3 213.1L47.0 218.1"/>
<path stroke="#ffbb78" stroke-width="1.1" d="M281.5 222.7L293.4 228.5M82.5 248.2L73.7 257.0M37.6 136.1L24.7 133.0"/>
<path stroke="#ffbb78" stroke-width="1.6" d="M273.6 236.8L284.7 243.9M66.4 228.2L55.9 234.9"/>
<path stroke="#17becf" stroke-width="1.4" d="M271.8 239.4L282.7 246.8M39.7 203.7L27.0 207.5"/>
<path stroke="#ff9896" stroke-width="1.1" d="M271.1 240.4L282.0 247.9M267.6 245.2L278.1 253.3M249.8 244.4L258.9 252.8M200.5 276.2L204.3 288.0M178.6 281.1L180.1 293.4M172.8 281.7L173.7 294.1M106.5 282.7L100.6 294.5M85.1 250.7L76.6 259.8"/>
<path stroke="#c5b0d5" stroke-width="1.2" d="M265.8 247.5L276.1 255.8M168.0 281.9L168.4 294.3M85.8 251.4L77.4 260.6"/>
<path stroke="#ffbb78" stroke-width="1.2" d="M251.5 242.5L260.8 250.7M49.7 227.7L38.0 234.0M54.7 128.0L43.0 123.9M62.1 111.2L51.1 105.4M53.9 96.9L42.8 89.9M56.8 92.6L45.8 85.2"/>
<path stroke="#bcbd22" stroke-width="1.0" d="M213.3 271.1L218.5 282.4M228.7 279.2L235.2 290.6"/>
<path stroke="#e377c2" stroke-width="1.6" d="M203.9 275.0L208.1 286.7"/>
<path stroke="#ff7f0e" stroke-width="1.2" d="M201.8 275.8L205.8 287.5M57.6 211.6L46.2 216.5M43.5 214.5L31.2 219.4"/>
<path stroke="#d62728" stroke-width="1.4" d="M221.4 283.0L227.2 294.9"/>
<path stroke="#e377c2" stroke-width="1.1" d="M198.2 291.7L201.7 304.4M74.7 260.5L65.7 270.1M104.5 50.4L98.4 38.6"/>
<path stroke="#9467bd" stroke-width="1.6" d="M144.9 280.4L142.9 292.6M142.4 294.3L140.2 307.4M123.3 289.6L119.2 302.1"/>
<path stroke="#bcbd22" stroke-width="1.4" d="M144.0 280.2L141.8 292.4"/>
<path stroke="#ffbb78" stroke-width="1.4" d="M127.2 275.9L123.2 287.6M126.0 275.5L121.9 287.2M51.5 138.9L39.5 136.0"/>
<path stroke="#8c564b" stroke-width="1.1" d="M102.4 280.6L96.2 292.2M48.5 173.4L36.2 174.2"/>
<path stroke="#dbdb8d" stroke-width="1.1" d="M97.1 277.5L90.3 288.8M68.2 230.9L57.9 237.8M48.6 157.6L36.2 156.7"/>
<path stroke="#98df8a" stroke-width="1.2" d="M91.7 274.1L84.4 285.0M64.6 249.7L54.5 258.2M48.8 177.1L36.5 178.3M49.0 153.2L36.7 151.9"/>
<path stroke="#7f7f7f" stroke-width="1.6" d="M81.7 266.7L73.3 276.9"/>
<path stroke="#98df8a" stroke-width="1.6" d="M36.9 193.0L24.0 195.7M36.6 140.5L23.7 138.0"/>
<path stroke="#9467bd" stroke-width="1.0" d="M67.8 101.7L57.4 94.8"/>
<path stroke="#d8d8d8" stroke-width="0.8" d="M73.8 72.4L64.6 62.9M75.5 70.7L66.5 61.1M80.9 66.0L72.4 55.9M86.9 61.3L79.1 50.7"/>
<path stroke="#dedede" stroke-width="0.8" d="M84.5 81.9L75.9 72.9"/>
<path stroke="#c8c8c8" stroke-width="0.8" d="M92.9 57.1L85.7 46.1"/>
<path stroke="#c49c94" stroke-width="0.9" d="M101.7 68.4L95.0 57.9"/>
<path stroke="#2ca02c" stroke-width="1.3" d="M98.5 53.7L91.8 42.3M105.8 65.8L99.6 55.1"/>
<path stroke="#dcdcdc" stroke-width="1.0" d="M99.9 52.8L93.4 41.4"/>
<path stroke="#ffbb78" stroke-width="0.8" d="M107.1 65.1L101.0 54.3"/>
<path stroke="#bbbbbb" stroke-width="0.8" d="M111.0 63.0L105.3 52.0"/>
<path fill="none" stroke="#0d1a8f" stroke-width="2.15" d="M164.8 19.9A146.1 146.1 0 0 1 274.1 69.7M276.3 72.2A146.1 146.1 0 0 1 309.0 145.8M309.4 149.1A146.1 146.1 0 0 1 301.3 216.8M300.1 219.9A146.1 146.1 0 0 1 276.6 259.4M274.5 261.9A146.1 146.1 0 0 1 239.9 291.0M237.0 292.7A146.1 146.1 0 0 1 194.3 309.0M191.0 309.6A146.1 146.1 0 0 1 148.4 311.2M145.1 310.8A146.1 146.1 0 0 1 111.3 302.2M108.3 300.9A146.1 146.1 0 0 1 77.7 283.7M75.1 281.7A146.1 146.1 0 0 1 51.3 258.6M49.3 256.0A146.1 146.1 0 0 1 33.3 230.6M31.8 227.6A146.1 146.1 0 0 1 22.2 200.0M21.5 196.7A146.1 146.1 0 0 1 18.3 171.2M18.2 167.9A146.1 146.1 0 0 1 19.5 146.8M19.9 143.5A146.1 146.1 0 0 1 24.0 125.4M24.9 122.2A146.1 146.1 0 0 1 30.6 107.2M31.9 104.1A146.1 146.1 0 0 1 38.5 91.7M40.2 88.9A146.1 146.1 0 0 1 48.2 77.4M50.2 74.8A146.1 146.1 0 0 1 57.0 66.8M61.4 62.3A146.1 146.1 0 0 1 66.2 57.8M68.8 55.4A146.1 146.1 0 0 1 72.6 52.3M75.6 49.9A146.1 146.1 0 0 1 79.5 47.1M82.2 45.2A146.1 146.1 0 0 1 86.2 42.5M89.1 40.8A146.1 146.1 0 0 1 93.0 38.5M96.4 36.6A146.1 146.1 0 0 1 98.0 35.8"/>
<path fill="none" stroke="#6d76b4" stroke-width="0.85" d="M101.3 35.6L100.1 33.3M105.0 33.9L104.0 31.5M108.8 32.2L107.8 29.8M112.7 30.7L111.8 28.3M116.6 29.3L115.7 26.8M120.5 28.0L119.7 25.5M124.5 26.8L123.8 24.3M128.5 25.7L127.8 23.2M132.5 24.7L131.9 22.2M136.6 23.9L136.1 21.3M140.7 23.1L140.2 20.6M144.7 22.5L144.4 19.9M148.9 22.0L148.6 19.4M153.0 21.6L152.8 19.1M157.1 21.4L157.0 18.8M161.3 21.2L161.2 18.6"/>
<path stroke="#888" stroke-width="0.5" d="M176.3 18.9L176.4 17.1M187.7 20.3L188.0 18.5M199.0 22.5L199.4 20.8M210.0 25.7L210.6 23.9M220.8 29.6L221.5 28.0M231.2 34.4L232.0 32.8M241.2 40.0L242.2 38.5M250.8 46.4L251.9 44.9M259.8 53.5L261.0 52.1M268.3 61.3L269.6 60.0M284.5 80.3L285.9 79.3M290.8 89.9L292.3 89.0M296.3 100.0L297.9 99.2M301.0 110.4L302.7 109.8M305.0 121.2L306.7 120.7M308.0 132.3L309.8 131.9M310.2 143.6L312.0 143.3M311.8 160.4L313.6 160.3M311.8 171.8L313.6 171.9M310.9 183.3L312.7 183.5M309.1 194.6L310.9 195.0M306.4 205.8L308.2 206.3M302.9 216.7L304.6 217.4M296.8 231.0L298.5 231.8M291.4 241.1L292.9 242.0M285.2 250.7L286.6 251.8M278.2 259.9L279.6 261.0M267.7 271.3L269.0 272.6M259.2 279.0L260.4 280.4M250.2 286.1L251.2 287.5M227.6 299.3L228.4 301.0M217.0 303.9L217.7 305.5M206.1 307.5L206.7 309.3M180.0 312.8L180.1 314.6M168.5 313.5L168.5 315.3M157.0 313.4L156.9 315.2M133.6 310.4L133.2 312.1M122.5 307.5L121.9 309.3M111.6 303.9L110.9 305.5M97.3 297.5L96.5 299.1M87.2 291.9L86.3 293.4M65.3 275.5L64.1 276.8M57.1 267.5L55.8 268.7M41.3 247.7L39.8 248.7M35.4 237.9L33.8 238.7M26.0 217.7L24.4 218.3M22.4 206.8L20.7 207.3M18.0 185.8L16.2 186.0M16.9 174.3L15.1 174.4M17.0 156.4L15.2 156.3M20.7 132.0L18.9 131.6M27.4 110.9L25.7 110.3M35.8 93.3L34.3 92.4M45.4 78.6L43.9 77.5M56.5 65.1L55.2 63.9"/>
<g font-family="Liberation Sans, sans-serif" font-size="5.5" fill="#444"><text x="176.6" y="15.7" transform="rotate(-85.3 176.6 15.7)" text-anchor="start" dy="1.9">0.1</text><text x="188.2" y="17.1" transform="rotate(-80.9 188.2 17.1)" text-anchor="start" dy="1.9">0.2</text><text x="199.7" y="19.4" transform="rotate(-76.4 199.7 19.4)" text-anchor="start" dy="1.9">0.3</text><text x="211.0" y="22.6" transform="rotate(-72.0 211.0 22.6)" text-anchor="start" dy="1.9">0.4</text><text x="222.0" y="26.7" transform="rotate(-67.5 222.0 26.7)" text-anchor="start" dy="1.9">0.5</text><text x="232.7" y="31.6" transform="rotate(-63.0 232.7 31.6)" text-anchor="start" dy="1.9">0.6</text><text x="242.9" y="37.3" transform="rotate(-58.6 242.9 37.3)" text-anchor="start" dy="1.9">0.7</text><text x="252.7" y="43.8" transform="rotate(-54.1 252.7 43.8)" text-anchor="start" dy="1.9">0.8</text><text x="261.9" y="51.1" transform="rotate(-49.7 261.9 51.1)" text-anchor="start" dy="1.9">0.9</text><text x="270.6" y="59.0" transform="rotate(-45.2 270.6 59.0)" text-anchor="start" dy="1.9">1.0</text><text x="287.1" y="78.5" transform="rotate(-35.5 287.1 78.5)" text-anchor="start" dy="1.9">0.1</text><text x="293.5" y="88.3" transform="rotate(-31.0 293.5 88.3)" text-anchor="start" dy="1.9">0.2</text><text x="299.2" y="98.5" transform="rotate(-26.6 299.2 98.5)" text-anchor="start" dy="1.9">0.3</text><text x="304.0" y="109.2" transform="rotate(-22.1 304.0 109.2)" text-anchor="start" dy="1.9">0.4</text><text x="308.0" y="120.3" transform="rotate(-17.7 308.0 120.3)" text-anchor="start" dy="1.9">0.5</text><text x="311.1" y="131.6" transform="rotate(-13.2 311.1 131.6)" text-anchor="start" dy="1.9">0.6</text><text x="313.4" y="143.1" transform="rotate(-8.7 313.4 143.1)" text-anchor="start" dy="1.9">0.7</text><text x="315.0" y="160.2" transform="rotate(-2.2 315.0 160.2)" text-anchor="start" dy="1.9">0.1</text><text x="315.0" y="172.0" transform="rotate(2.3 315.0 172.0)" text-anchor="start" dy="1.9">0.2</text><text x="314.1" y="183.7" transform="rotate(6.7 314.1 183.7)" text-anchor="start" dy="1.9">0.3</text><text x="312.2" y="195.3" transform="rotate(11.2 312.2 195.3)" text-anchor="start" dy="1.9">0.4</text><text x="309.5" y="206.7" transform="rotate(15.7 309.5 206.7)" text-anchor="start" dy="1.9">0.5</text><text x="305.9" y="217.8" transform="rotate(20.1 305.9 217.8)" text-anchor="start" dy="1.9">0.6</text><text x="299.7" y="232.4" transform="rotate(26.1 299.7 232.4)" text-anchor="start" dy="1.9">0.1</text><text x="294.1" y="242.7" transform="rotate(30.6 294.1 242.7)" text-anchor="start" dy="1.9">0.2</text><text x="287.8" y="252.6" transform="rotate(35.0 287.8 252.6)" text-anchor="start" dy="1.9">0.3</text><text x="280.7" y="261.9" transform="rotate(39.5 280.7 261.9)" text-anchor="start" dy="1.9">0.4</text><text x="270.0" y="273.6" transform="rotate(45.5 270.0 273.6)" text-anchor="start" dy="1.9">0.1</text><text x="261.3" y="281.5" transform="rotate(50.0 261.3 281.5)" text-anchor="start" dy="1.9">0.2</text><text x="252.0" y="288.7" transform="rotate(54.4 252.0 288.7)" text-anchor="start" dy="1.9">0.3</text><text x="229.0" y="302.2" transform="rotate(64.6 229.0 302.2)" text-anchor="start" dy="1.9">0.1</text><text x="218.2" y="306.8" transform="rotate(69.1 218.2 306.8)" text-anchor="start" dy="1.9">0.2</text><text x="207.1" y="310.6" transform="rotate(73.5 207.1 310.6)" text-anchor="start" dy="1.9">0.3</text><text x="180.3" y="315.9" transform="rotate(83.9 180.3 315.9)" text-anchor="start" dy="1.9">0.1</text><text x="168.6" y="316.7" transform="rotate(88.4 168.6 316.7)" text-anchor="start" dy="1.9">0.2</text><text x="156.9" y="316.6" transform="rotate(-87.2 156.9 316.6)" text-anchor="end" dy="1.9">0.3</text><text x="132.9" y="313.5" transform="rotate(-78.0 132.9 313.5)" text-anchor="end" dy="1.9">0.1</text><text x="121.5" y="310.6" transform="rotate(-73.5 121.5 310.6)" text-anchor="end" dy="1.9">0.2</text><text x="110.4" y="306.8" transform="rotate(-69.1 110.4 306.8)" text-anchor="end" dy="1.9">0.3</text><text x="95.8" y="300.4" transform="rotate(-63.0 95.8 300.4)" text-anchor="end" dy="1.9">0.1</text><text x="85.6" y="294.6" transform="rotate(-58.5 85.6 294.6)" text-anchor="end" dy="1.9">0.2</text><text x="63.2" y="277.9" transform="rotate(-47.9 63.2 277.9)" text-anchor="end" dy="1.9">0.1</text><text x="54.8" y="269.7" transform="rotate(-43.4 54.8 269.7)" text-anchor="end" dy="1.9">0.2</text><text x="38.7" y="249.4" transform="rotate(-33.6 38.7 249.4)" text-anchor="end" dy="1.9">0.1</text><text x="32.6" y="239.4" transform="rotate(-29.1 32.6 239.4)" text-anchor="end" dy="1.9">0.2</text><text x="23.0" y="218.8" transform="rotate(-20.5 23.0 218.8)" text-anchor="end" dy="1.9">0.1</text><text x="19.4" y="207.6" transform="rotate(-16.0 19.4 207.6)" text-anchor="end" dy="1.9">0.2</text><text x="14.9" y="186.2" transform="rotate(-7.7 14.9 186.2)" text-anchor="end" dy="1.9">0.1</text><text x="13.7" y="174.5" transform="rotate(-3.2 13.7 174.5)" text-anchor="end" dy="1.9">0.2</text><text x="13.8" y="156.2" transform="rotate(3.7 13.8 156.2)" text-anchor="end" dy="1.9">0.1</text><text x="17.6" y="131.3" transform="rotate(13.3 17.6 131.3)" text-anchor="end" dy="1.9">0.1</text><text x="24.4" y="109.7" transform="rotate(21.9 24.4 109.7)" text-anchor="end" dy="1.9">0.1</text><text x="33.1" y="91.7" transform="rotate(29.5 33.1 91.7)" text-anchor="end" dy="1.9">0.1</text><text x="42.8" y="76.7" transform="rotate(36.3 42.8 76.7)" text-anchor="end" dy="1.9">0.1</text><text x="54.2" y="62.9" transform="rotate(43.1 54.2 62.9)" text-anchor="end" dy="1.9">0.1</text></g>
<path stroke="#666" stroke-width="0.6" d="M165.8 78.0L166.0 67.0M172.7 78.4L173.8 67.5"/>
<path stroke="#aaa" stroke-width="0.5" d="M173.6 92.6L178.3 54.9"/>
<path stroke="#777" stroke-width="0.6" d="M168.9 78.1L169.5 67.1M179.6 79.3L181.5 68.5M227.9 225.3L237.4 234.2"/>
<path stroke="#333" stroke-width="0.9" d="M175.8 78.8L177.2 67.8"/>
<path stroke="#999" stroke-width="0.6" d="M183.8 65.9L185.9 55.1M194.1 68.5L197.3 57.9M194.8 97.5L199.7 86.5M209.6 90.6L215.8 80.3M211.3 91.6L217.7 81.5M203.5 103.2L210.9 91.4M232.5 88.9L237.9 82.9M228.3 84.0L233.3 77.7M241.9 133.9L250.2 130.4M236.4 141.9L244.9 139.0M264.1 144.8L274.8 142.5M264.5 147.1L275.3 145.0M249.1 185.6L261.7 188.5M259.5 202.6L270.7 206.9M234.7 215.3L246.2 223.4M208.4 226.7L220.1 242.9M207.0 227.7L218.4 244.1M195.6 233.1L202.3 247.6M194.0 233.8L200.5 248.4M185.0 243.3L189.9 261.6M183.2 243.7L187.7 262.2M167.3 252.9L168.0 270.9M165.4 253.0L165.6 271.0M172.8 235.5L174.5 249.4M195.0 228.9L202.9 245.1M193.6 229.6L201.1 245.9M206.2 227.0L213.6 237.7M162.8 253.0L162.6 264.0M160.8 252.9L160.4 263.9M158.7 236.8L157.8 248.7M157.1 236.6L155.9 248.6M131.7 248.8L128.0 258.1M154.1 238.3L151.6 256.1M152.5 238.0L149.6 255.8M134.2 248.7L131.1 257.2M130.7 231.9L128.0 237.3M94.0 197.3L86.6 200.6M73.8 203.5L61.7 208.5M74.8 210.6L65.0 215.5M91.0 176.3L80.1 177.8M76.4 169.1L63.4 169.5M78.4 163.0L65.4 162.5M76.8 117.5L63.7 110.2"/>
<path stroke="#aaa" stroke-width="0.6" d="M189.0 67.0L191.6 56.4M197.9 100.1L203.3 89.4M240.4 95.1L245.5 90.3M265.6 154.5L277.6 153.1M266.1 173.1L278.0 174.0M182.3 235.7L185.3 247.3M155.5 266.6L154.6 276.6M122.5 264.5L120.1 270.0M127.1 245.8L123.3 253.9M79.6 221.0L68.7 228.1M78.4 219.1L67.3 225.9M66.6 201.6L57.2 205.0M86.2 100.4L76.2 92.1"/>
<path stroke="#888" stroke-width="0.6" d="M195.8 83.8L200.1 72.6M197.7 84.6L202.2 73.5M233.2 133.9L240.4 130.5M233.9 135.5L241.2 132.2M98.9 224.9L90.0 232.9M97.6 223.4L88.5 231.2M84.9 196.5L74.7 200.4M99.9 109.0L90.2 100.4M101.2 107.6L91.7 98.7"/>
<path stroke="#333" stroke-width="1.0" d="M216.0 94.8L223.1 85.1M217.6 96.0L224.9 86.5M219.2 97.2L226.7 87.8"/>
<path stroke="#222" stroke-width="1.2" d="M225.4 102.7L233.8 94.1"/>
<path stroke="#444" stroke-width="0.8" d="M228.7 106.0L237.4 97.8M189.2 247.3L193.2 260.7"/>
<path stroke="#888" stroke-width="0.7" d="M236.4 115.5L246.2 108.6M237.5 117.2L247.5 110.5M250.7 176.6L262.6 178.1"/>
<path stroke="#222" stroke-width="0.9" d="M241.3 123.3L250.0 118.5M242.2 125.1L251.1 120.4M243.1 126.9L252.1 122.4"/>
<path stroke="#555" stroke-width="1.0" d="M236.8 164.7L249.3 164.5"/>
<path stroke="#444" stroke-width="1.0" d="M251.2 170.6L264.2 171.2M79.6 180.9L65.8 183.4M78.6 150.9L64.8 148.5"/>
<path stroke="#333" stroke-width="1.6" d="M242.2 204.8L252.9 210.2"/>
<path stroke="#111" stroke-width="1.4" d="M222.4 229.4L231.2 239.0"/>
<path stroke="#555" stroke-width="0.8" d="M193.4 245.9L198.5 260.0M105.4 231.4L97.4 240.3M103.9 230.0L95.7 238.8M78.8 157.0L65.8 155.7"/>
<path stroke="#111" stroke-width="1.6" d="M115.1 239.0L108.9 248.1"/>
<path stroke="#777" stroke-width="0.7" d="M96.9 222.6L87.7 230.3M78.5 172.0L63.5 173.0"/>
<path stroke="#222" stroke-width="0.8" d="M98.4 134.6L85.8 128.5M99.1 133.1L86.6 126.8"/>
<path stroke="#555" stroke-width="0.7" d="M123.0 107.0L115.0 95.6M124.4 106.1L116.6 94.5"/>
<path stroke="#333" stroke-width="0.8" d="M131.4 105.4L123.3 90.4"/>
<path fill="#fbeef6" d="M132.0 101.3A72.3 72.3 0 0 1 164.2 93.7L164.3 121.8A44.2 44.2 0 0 0 144.6 126.4Z"/>
<path fill="#fde8d4" d="M144.8 127.0A43.6 43.6 0 0 1 164.3 122.4L164.3 151.7A14.3 14.3 0 0 0 157.9 153.2Z"/>
<path stroke="#fff" stroke-width="0.6" d="M157.9 153.2L131.9 101.0M158.2 153.1L133.4 100.3M158.6 152.9L135.2 99.5M158.9 152.8L136.7 98.8M159.2 152.6L138.3 98.2M159.4 152.6L139.6 97.7M159.9 152.4L141.8 97.0M160.3 152.3L144.0 96.3M160.7 152.2L146.1 95.7M161.1 152.1L147.9 95.3M161.5 152.0L150.1 94.8M161.8 151.9L151.5 94.5M162.1 151.9L152.9 94.3M162.4 151.8L154.7 94.0M162.7 151.8L156.0 93.9M162.9 151.8L157.3 93.7M163.3 151.7L159.3 93.6M163.7 151.7L161.1 93.5M164.1 151.7L163.2 93.4"/>
<path fill="#f2d0e8" d="M164.1 93.7A72.3 72.3 0 0 1 218.9 118.7L197.7 137.1A44.2 44.2 0 0 0 164.2 121.8ZM219.4 119.2A72.3 72.3 0 0 1 236.0 156.4L208.1 160.2A44.2 44.2 0 0 0 198.0 137.4ZM236.1 157.2A72.3 72.3 0 0 1 231.9 191.6L205.6 181.6A44.2 44.2 0 0 0 208.2 160.6ZM231.7 192.3A72.3 72.3 0 0 1 219.6 212.6L198.1 194.5A44.2 44.2 0 0 0 205.5 182.1ZM219.1 213.1A72.3 72.3 0 0 1 201.3 228.1L186.9 204.0A44.2 44.2 0 0 0 197.8 194.8ZM200.7 228.5A72.3 72.3 0 0 1 178.7 236.8L173.1 209.3A44.2 44.2 0 0 0 186.5 204.2ZM178.0 237.0A72.3 72.3 0 0 1 156.0 237.8L159.2 209.9A44.2 44.2 0 0 0 172.7 209.4ZM155.2 237.7A72.3 72.3 0 0 1 137.7 233.2L148.0 207.1A44.2 44.2 0 0 0 158.8 209.9ZM137.0 232.9A72.3 72.3 0 0 1 121.1 224.0L137.9 201.4A44.2 44.2 0 0 0 147.6 206.9ZM120.5 223.5A72.3 72.3 0 0 1 108.1 211.5L130.0 193.8A44.2 44.2 0 0 0 137.5 201.2ZM107.6 210.9A72.3 72.3 0 0 1 99.3 197.6L124.5 185.3A44.2 44.2 0 0 0 129.7 193.5ZM98.9 196.9A72.3 72.3 0 0 1 93.9 182.4L121.3 176.0A44.2 44.2 0 0 0 124.3 184.9ZM93.7 181.6A72.3 72.3 0 0 1 92.0 168.1L120.1 167.3A44.2 44.2 0 0 0 121.1 175.6ZM92.0 167.4A72.3 72.3 0 0 1 92.7 156.1L120.5 159.9A44.2 44.2 0 0 0 120.1 166.8ZM92.8 155.3A72.3 72.3 0 0 1 95.0 145.5L121.9 153.4A44.2 44.2 0 0 0 120.6 159.5ZM95.2 144.7A72.3 72.3 0 0 1 98.3 136.5L124.0 148.0A44.2 44.2 0 0 0 122.1 153.0ZM98.6 135.8A72.3 72.3 0 0 1 102.3 128.9L126.4 143.3A44.2 44.2 0 0 0 124.1 147.5ZM102.7 128.2A72.3 72.3 0 0 1 107.1 121.8L129.3 139.0A44.2 44.2 0 0 0 126.6 142.9ZM107.6 121.2A72.3 72.3 0 0 1 111.5 116.6L132.0 135.8A44.2 44.2 0 0 0 129.6 138.6ZM113.0 115.0A72.3 72.3 0 0 1 116.1 112.1L134.8 133.1A44.2 44.2 0 0 0 133.0 134.8ZM116.7 111.6A72.3 72.3 0 0 1 119.2 109.5L136.8 131.4A44.2 44.2 0 0 0 135.2 132.7ZM120.0 108.8A72.3 72.3 0 0 1 122.7 106.9L138.9 129.9A44.2 44.2 0 0 0 137.2 131.1ZM123.3 106.5A72.3 72.3 0 0 1 126.0 104.7L140.9 128.5A44.2 44.2 0 0 0 139.2 129.6ZM126.7 104.3A72.3 72.3 0 0 1 129.4 102.7L143.0 127.3A44.2 44.2 0 0 0 141.3 128.3ZM130.3 102.2A72.3 72.3 0 0 1 131.9 101.4L144.5 126.5A44.2 44.2 0 0 0 143.5 127.0Z"/>
<path fill="#fbc08a" d="M164.2 122.4A43.6 43.6 0 0 1 197.3 137.5L175.1 156.6A14.3 14.3 0 0 0 164.3 151.7ZM197.6 137.8A43.6 43.6 0 0 1 207.5 160.2L178.5 164.1A14.3 14.3 0 0 0 175.2 156.8ZM207.6 160.7A43.6 43.6 0 0 1 205.1 181.4L177.7 171.1A14.3 14.3 0 0 0 178.5 164.3ZM204.9 181.8A43.6 43.6 0 0 1 197.7 194.1L175.2 175.2A14.3 14.3 0 0 0 177.6 171.2ZM197.4 194.4A43.6 43.6 0 0 1 186.6 203.5L171.6 178.3A14.3 14.3 0 0 0 175.1 175.3ZM186.2 203.7A43.6 43.6 0 0 1 173.0 208.7L167.2 180.0A14.3 14.3 0 0 0 171.5 178.4ZM172.5 208.8A43.6 43.6 0 0 1 159.3 209.3L162.7 180.2A14.3 14.3 0 0 0 167.0 180.0ZM158.8 209.3A43.6 43.6 0 0 1 148.2 206.5L159.0 179.3A14.3 14.3 0 0 0 162.5 180.2ZM147.8 206.4A43.6 43.6 0 0 1 138.2 201.0L155.8 177.5A14.3 14.3 0 0 0 158.9 179.2ZM137.9 200.7A43.6 43.6 0 0 1 130.4 193.4L153.2 175.0A14.3 14.3 0 0 0 155.6 177.4ZM130.1 193.1A43.6 43.6 0 0 1 125.1 185.0L151.4 172.2A14.3 14.3 0 0 0 153.1 174.9ZM124.9 184.6A43.6 43.6 0 0 1 121.8 175.9L150.4 169.2A14.3 14.3 0 0 0 151.4 172.1ZM121.7 175.4A43.6 43.6 0 0 1 120.7 167.3L150.0 166.4A14.3 14.3 0 0 0 150.3 169.1ZM120.7 166.8A43.6 43.6 0 0 1 121.1 160.0L150.1 164.0A14.3 14.3 0 0 0 150.0 166.3ZM121.2 159.6A43.6 43.6 0 0 1 122.5 153.6L150.6 161.9A14.3 14.3 0 0 0 150.2 163.9ZM122.6 153.2A43.6 43.6 0 0 1 124.5 148.2L151.2 160.2A14.3 14.3 0 0 0 150.6 161.8ZM124.7 147.8A43.6 43.6 0 0 1 126.9 143.6L152.0 158.7A14.3 14.3 0 0 0 151.3 160.0ZM127.1 143.2A43.6 43.6 0 0 1 129.8 139.3L153.0 157.3A14.3 14.3 0 0 0 152.1 158.5ZM130.1 139.0A43.6 43.6 0 0 1 132.5 136.2L153.9 156.2A14.3 14.3 0 0 0 153.1 157.1ZM133.4 135.3A43.6 43.6 0 0 1 135.2 133.5L154.8 155.3A14.3 14.3 0 0 0 154.2 155.9ZM135.6 133.2A43.6 43.6 0 0 1 137.1 131.9L155.4 154.8A14.3 14.3 0 0 0 154.9 155.2ZM137.6 131.5A43.6 43.6 0 0 1 139.2 130.4L156.1 154.3A14.3 14.3 0 0 0 155.5 154.7ZM139.6 130.1A43.6 43.6 0 0 1 141.2 129.0L156.7 153.9A14.3 14.3 0 0 0 156.2 154.2ZM141.6 128.8A43.6 43.6 0 0 1 143.3 127.8L157.4 153.5A14.3 14.3 0 0 0 156.9 153.8ZM143.8 127.5A43.6 43.6 0 0 1 144.7 127.0L157.9 153.2A14.3 14.3 0 0 0 157.6 153.4Z"/>
<path fill="none" stroke="#3a3038" stroke-width="0.7" d="M164.8 96.3L165.1 96.6L165.4 96.4L165.7 96.4L166.0 96.2L166.3 96.2L166.6 97.8L166.9 95.9L167.3 95.5L167.5 96.5L167.8 96.4L168.1 96.4L168.4 96.3L168.7 96.4L168.9 98.2L169.4 96.2L169.6 97.4L169.9 96.7L170.3 96.5L170.4 98.1L170.9 96.5L171.0 98.6L171.4 97.0L171.8 96.8L171.9 98.1L172.1 99.3L172.4 98.7L173.0 96.7L173.2 97.7L173.4 98.0L173.8 97.4L173.9 98.8L174.5 97.3L174.7 97.4L175.1 97.2L174.9 100.1L175.7 97.3L175.8 98.2L176.1 98.4L176.5 98.0L176.8 98.1L177.1 98.1L177.4 98.0L177.6 98.4L178.0 98.0L178.5 97.3L178.6 98.0L179.0 97.7L179.3 97.6L179.6 98.0L179.8 98.5L180.1 98.3L180.4 98.6L180.8 98.1L181.2 97.6L181.1 99.3L181.4 99.3L181.2 101.5L182.2 98.7L182.6 98.3L182.8 99.0L182.9 99.7L183.2 99.5L183.7 98.9L183.9 99.4L183.5 101.9L184.5 99.4L184.3 101.1L185.0 99.8L185.4 99.7L186.0 98.8L186.0 99.8L186.4 99.7L186.6 100.1L186.8 100.1L186.3 102.7L187.0 101.5L187.7 100.4L187.9 100.7L188.3 100.7L188.7 100.4L188.9 100.7L189.4 100.3L189.4 101.2L189.5 101.8L190.0 101.2L190.1 101.7L190.8 100.9L190.6 102.1L190.5 103.1L191.2 102.3L191.4 102.7L191.7 102.7L192.8 101.0L192.4 102.5L192.6 102.8L193.1 102.5L193.3 102.9L193.7 102.6L193.8 103.1L193.8 103.8L194.6 102.8L194.5 103.8L195.3 102.8L195.4 103.4L195.4 103.9L196.1 103.4L196.1 104.1L196.4 104.1L196.3 104.9L197.4 103.4L197.2 104.4L197.3 104.9L198.0 104.4L198.0 105.0L197.9 105.7L198.3 105.7L198.0 106.7L199.1 105.4L199.2 105.9L200.3 104.7L199.7 106.2L199.9 106.5L200.8 105.6L200.6 106.5L200.6 107.0L201.3 106.6L201.7 106.5L201.7 107.1L201.9 107.3L202.2 107.5L202.3 107.8L202.4 108.2L202.6 108.4L202.5 109.1L202.9 109.1L203.7 108.4L203.5 109.3L202.7 110.9L203.9 109.8L204.8 109.0L204.5 109.9L204.9 109.9L205.3 109.9L205.5 110.1L205.9 110.1L205.7 110.8L206.8 110.0L207.2 109.9L206.4 111.5L206.8 111.4L207.6 110.9L207.1 112.1L207.7 111.7L208.1 111.7L206.9 113.7L208.9 111.7L209.0 112.1L208.7 112.8L209.9 111.9L207.5 115.3L210.1 112.6L210.3 112.9L209.9 113.8L210.4 113.7L210.4 114.1L210.2 114.9L211.1 114.3L211.7 114.1L210.9 115.4L211.6 115.0L212.0 115.1L211.5 116.1L211.5 116.6L212.5 115.9L212.8 116.0L213.1 116.2L213.1 116.6L212.6 117.5L212.9 117.7L214.2 116.8L214.3 117.1L214.0 117.8L214.1 118.1L214.9 117.9L215.3 117.9L214.7 118.9L214.5 119.4L215.7 118.7L214.8 120.0L215.8 119.4L216.5 119.2L216.8 119.4M218.0 121.4L218.4 121.4L218.0 122.1L218.5 122.1L218.6 122.4L218.8 122.6L218.8 123.0L218.0 124.0L218.7 123.9L219.3 123.8L219.4 124.1L219.9 124.1L220.0 124.4L220.3 124.6L220.4 124.9L220.7 125.1L220.9 125.3L221.3 125.4L221.4 125.6L222.1 125.6L221.1 126.6L221.8 126.5L222.4 126.4L222.5 126.8L222.0 127.4L222.1 127.8L222.7 127.7L222.3 128.4L221.5 129.2L223.5 128.3L221.9 129.7L223.1 129.3L223.1 129.6L223.6 129.6L224.2 129.7L224.2 130.0L223.8 130.6L224.5 130.6L224.6 130.8L224.7 131.1L224.8 131.4L225.3 131.5L225.2 131.9L225.1 132.3L225.2 132.6L225.2 133.0L226.0 132.8L226.0 133.2L226.4 133.3L226.1 133.8L226.1 134.2L226.9 134.1L227.3 134.2L226.5 135.0L227.2 135.0L226.5 135.7L227.3 135.6L227.2 136.0L227.5 136.2L226.9 136.8L227.5 136.9L227.5 137.2L227.9 137.4L227.8 137.7L228.2 137.9L228.6 138.0L228.8 138.3L229.0 138.6L228.8 139.0L228.9 139.2L226.0 140.8L228.7 140.0L228.7 140.3L229.9 140.2L230.1 140.4L229.2 141.1L228.9 141.5L229.4 141.7L228.8 142.2L229.5 142.3L229.8 142.5L230.1 142.7L230.9 142.7L230.5 143.2L231.4 143.2L229.6 144.1L230.1 144.3L230.1 144.6L230.3 144.9L230.6 145.1L231.2 145.2L230.9 145.6L230.7 146.0L231.0 146.2L231.7 146.4L231.2 146.8L231.1 147.2L232.0 147.2L230.2 148.0L231.2 148.1L231.0 148.4L231.5 148.6L231.4 149.0L231.8 149.2L232.3 149.4L232.3 149.7L229.9 150.5L231.7 150.5L233.1 150.4L232.6 150.9L232.0 151.3L232.9 151.4L232.3 151.8L232.4 152.1L232.1 152.5L232.8 152.7L232.5 153.0L232.3 153.4L232.9 153.6L232.5 154.0L233.6 154.1L233.4 154.4L233.4 154.7L232.4 155.2L232.7 155.5L233.6 155.6L231.0 156.3M230.7 158.5L232.4 158.6L234.0 158.7L233.3 159.1L232.2 159.5L234.1 159.6L233.1 160.0L233.5 160.3L234.3 160.6L234.4 160.9L234.5 161.1L233.7 161.5L232.4 161.9L233.8 162.1L233.3 162.4L234.0 162.7L233.8 163.0L233.9 163.3L233.9 163.6L232.8 164.0L234.0 164.2L234.6 164.5L234.9 164.8L233.9 165.2L233.7 165.5L233.2 165.8L233.6 166.1L234.6 166.4L234.9 166.7L234.5 167.0L234.4 167.3L231.3 167.5L233.7 167.9L233.9 168.2L234.3 168.5L233.7 168.8L233.8 169.1L234.0 169.4L234.5 169.7L233.9 170.0L234.2 170.3L233.2 170.6L231.1 170.7L233.0 171.2L233.3 171.5L234.4 171.9L233.9 172.1L232.9 172.4L234.5 172.8L234.1 173.1L233.8 173.4L234.2 173.7L233.4 173.9L232.4 174.1L233.9 174.6L233.4 174.9L233.0 175.1L233.9 175.5L233.5 175.8L233.7 176.1L233.4 176.4L233.1 176.6L232.7 176.9L230.6 176.9L233.0 177.6L232.3 177.7L233.0 178.2L232.6 178.4L232.4 178.7L232.8 179.1L232.8 179.4L232.4 179.6L232.9 180.0L232.0 180.2L232.8 180.6L232.1 180.8L229.8 180.6L230.7 181.1L232.0 181.7L232.0 182.0L231.5 182.2L232.3 182.7L232.2 183.0L231.1 183.0L232.9 183.8L231.5 183.8L230.6 183.8L231.2 184.3L229.6 184.2L231.4 185.0L228.3 184.4L229.5 185.1L231.0 185.8L230.7 186.0L231.4 186.6L231.8 187.0L230.3 186.9L231.2 187.5L230.6 187.6L228.5 187.2L230.7 188.3L229.6 188.2L230.7 188.9L230.2 189.1L229.9 189.3L230.1 189.7L229.9 189.9M228.8 191.8L228.8 192.2L228.9 192.6L228.0 192.5L228.6 193.1L228.3 193.3L228.2 193.6L227.8 193.7L228.1 194.2L227.6 194.3L226.4 194.1L227.4 194.9L228.0 195.5L227.2 195.5L227.6 196.0L227.0 196.0L227.4 196.6L225.5 196.0L227.0 197.0L226.8 197.3L226.8 197.7L225.8 197.5L226.2 198.0L227.2 198.9L226.3 198.8L225.4 198.6L225.8 199.2L224.9 199.0L225.1 199.5L224.6 199.6L225.3 200.3L224.9 200.4L224.3 200.5L221.8 199.4L224.1 201.0L225.0 201.9L224.1 201.7L224.1 202.1L223.9 202.3L223.4 202.4L222.5 202.1L223.9 203.4L221.5 202.2L222.5 203.2L221.8 203.1L222.7 204.0L222.5 204.3L222.5 204.6L222.3 204.9L222.1 205.2L222.3 205.6L221.8 205.6L221.3 205.7L220.8 205.7L221.2 206.4L219.6 205.6L220.7 206.8L221.1 207.5L220.5 207.4L219.9 207.3L219.7 207.5L219.4 207.7L220.1 208.6L219.0 208.1L219.3 208.8L219.3 209.1L217.4 208.0L218.4 209.2L218.2 209.4L219.0 210.4L218.5 210.5L218.2 210.6M217.5 212.6L216.6 212.3L216.5 212.6L216.1 212.6L214.0 211.1L215.8 213.2L215.5 213.3L214.6 212.9L214.9 213.6L214.6 213.7L213.3 212.9L214.2 214.2L214.6 215.0L214.3 215.2L213.6 214.9L213.7 215.4L212.7 214.8L212.9 215.5L213.4 216.5L212.3 215.7L212.0 215.8L212.3 216.6L211.8 216.5L210.4 215.4L212.5 218.1L211.0 217.0L211.3 217.7L210.5 217.3L210.7 218.0L210.2 217.8L210.8 219.0L209.8 218.4L209.7 218.7L208.1 217.3L209.4 219.3L208.9 219.1L208.7 219.4L208.3 219.4L208.4 220.0L208.3 220.3L207.8 220.2L207.7 220.6L207.6 220.9L207.2 220.9L207.0 221.2L206.0 220.4L206.6 221.6L206.3 221.7L205.9 221.7L205.5 221.6L205.8 222.6L205.4 222.5L204.9 222.3L205.1 223.2L203.2 221.1L203.8 222.4L204.2 223.5L202.8 222.1L203.5 223.5L203.1 223.6L203.1 224.0L202.8 224.1L202.6 224.4L202.4 224.7L202.1 224.8L200.7 223.2L201.9 225.5L201.6 225.7L201.4 226.0L200.7 225.4M198.8 226.6L197.4 224.7L198.0 226.4L197.9 226.8L196.7 225.3L197.2 226.8L197.0 227.1L196.4 226.6L196.4 227.3L196.2 227.6L196.1 228.1L195.5 227.5L195.6 228.3L195.2 228.3L195.5 229.6L194.3 227.7L194.4 228.6L193.9 228.4L194.1 229.4L193.5 229.0L192.9 228.3L193.0 229.3L192.7 229.4L192.5 229.7L192.2 229.6L191.9 229.8L191.8 230.2L191.3 229.9L191.1 230.3L191.0 230.9L190.4 230.1L190.3 230.6L190.1 230.9L189.9 231.2L189.2 230.3L189.2 231.2L188.5 230.3L188.7 231.5L188.4 231.6L188.0 231.5L187.2 230.2L187.3 231.3L187.0 231.4L186.7 231.3L186.1 230.5L186.2 231.8L185.8 231.5L185.6 231.8L185.6 232.8L184.5 230.6L184.9 232.9L184.3 231.9L184.1 232.1L183.8 232.1L183.3 231.7L183.4 233.2L183.1 233.1L182.8 233.2L182.5 233.4L181.8 231.9L181.8 233.0L181.3 232.1L181.2 233.0L181.1 234.0L180.7 233.6L179.9 231.5L180.2 234.0L179.8 233.9L179.6 234.1L178.9 232.2L178.8 233.1M176.7 234.2L176.6 235.3L176.2 234.4L176.0 235.0L175.5 234.3L175.2 234.3L175.0 234.7L174.7 234.8L174.3 234.5L174.1 234.6L173.8 235.0L173.4 234.2L173.2 235.0L172.7 233.3L172.6 235.5L172.1 233.1L172.0 235.0L171.8 235.7L171.4 234.9L171.1 235.1L170.7 234.4L170.6 236.3L170.2 235.4L169.7 232.9L169.5 235.0L169.3 235.3L168.9 234.6L168.6 235.1L168.4 236.0L168.0 234.4L167.8 235.7L167.4 235.0L167.1 235.4L166.8 234.7L166.6 235.9L166.3 236.7L165.9 233.2L165.6 235.2L165.3 234.6L165.0 236.0L164.7 233.6L164.4 234.3L164.1 236.3L163.8 236.0L163.5 235.2L163.2 236.1L162.9 236.3L162.6 235.8L162.3 235.9L161.9 237.2L161.7 235.5L161.4 235.9L161.1 235.9L160.8 235.2L160.5 235.8L160.2 235.4L160.0 233.7L159.6 235.6L159.3 234.8L159.0 235.5L158.6 235.7L158.3 235.8L158.1 235.1L157.7 235.4L157.4 235.3L157.1 235.8M154.9 234.8L154.5 235.5L154.4 234.6L153.9 235.6L153.7 234.7L153.5 234.5L153.2 233.9L152.8 234.8L152.4 235.0L152.1 235.4L151.8 235.1L151.5 234.8L151.9 231.5L151.1 233.9L150.7 234.1L150.5 234.0L150.3 233.3L150.4 231.3L149.5 234.2L149.2 234.3L149.1 233.0L148.7 233.4L148.9 231.3L148.0 234.0L147.9 233.0L147.4 233.9L147.2 233.4L146.9 233.4L146.7 233.0L146.4 232.8L146.0 233.1L145.9 232.4L145.3 233.4L145.7 230.8L144.5 234.0L144.8 231.9L144.3 232.6L143.9 232.6L143.5 232.8L143.6 231.6L143.1 232.3L142.8 232.2L142.6 231.7L142.2 232.2L141.9 232.0L141.6 232.0L141.2 232.3L141.2 231.3L140.7 231.9L141.2 229.4L140.2 231.4L139.8 231.7L139.5 231.4L139.5 230.5M137.6 229.7L137.0 230.4L137.3 228.9L136.2 230.6L136.2 229.9L137.3 226.6L136.1 228.7L135.5 229.3L134.9 229.7L134.8 229.2L134.5 229.3L134.3 229.0L133.8 229.2L133.8 228.4L133.4 228.6L133.2 228.4L132.8 228.5L133.7 226.0L132.7 227.3L132.3 227.6L132.0 227.4L131.5 227.7L131.1 227.7L131.2 226.9L131.3 226.1L130.4 227.1L130.7 226.0L129.7 227.1L129.6 226.8L129.6 226.1L129.1 226.3L128.7 226.5L129.0 225.4L128.2 226.0L128.3 225.4L127.6 225.9L127.6 225.3L127.4 225.0L127.3 224.6L127.0 224.6L126.8 224.3L126.1 224.8L126.1 224.3L125.8 224.2L125.8 223.7L125.4 223.7L125.2 223.5L124.8 223.5L124.9 222.8L125.8 221.0L124.1 222.9L123.5 223.2L124.3 221.6L123.3 222.4M121.8 220.6L121.6 220.4L120.9 220.9L122.7 218.1L120.8 220.0L120.6 219.7L119.4 220.7L119.8 219.7L119.7 219.4L119.2 219.5L119.8 218.3L120.7 216.9L118.8 218.6L118.7 218.2L119.9 216.4L119.6 216.4L117.3 218.5L118.4 216.8L117.1 217.8L117.1 217.3L118.5 215.4L116.8 216.8L115.9 217.2L116.2 216.5L116.2 216.1L115.8 216.1L116.3 215.1L115.8 215.2L114.8 215.7L115.0 215.1L114.6 215.1L114.8 214.5L114.0 214.8L114.1 214.3L115.3 212.7L114.1 213.5L113.1 214.0L113.7 213.0L113.3 213.0L112.5 213.3L112.8 212.6L112.7 212.3L112.1 212.4L112.2 211.9L112.1 211.6L112.6 210.8L111.4 211.4L111.4 211.0L111.7 210.3L110.7 210.8L111.6 209.6M109.5 208.6L109.2 208.4L108.0 209.0L108.5 208.2L108.9 207.5L108.3 207.6L110.4 205.7L107.9 207.1L108.0 206.7L107.5 206.7L107.6 206.2L107.5 205.9L107.5 205.5L106.2 206.1L106.7 205.4L106.3 205.2L106.5 204.8L108.1 203.3L106.3 204.2L105.2 204.5L105.8 203.8L106.5 202.9L105.7 203.1L105.6 202.8L104.8 202.9L106.7 201.4L104.7 202.3L104.6 202.0L105.8 200.9L104.8 201.2L104.0 201.3L106.4 199.6L104.0 200.6L104.1 200.2L104.0 199.9L103.7 199.8L103.2 199.6L103.1 199.4L103.6 198.8L103.0 198.7L102.8 198.5L103.4 197.8L104.8 196.8L104.3 196.7L102.8 197.1L102.5 197.0M100.7 195.3L102.9 194.0L100.5 194.7L101.2 194.1L100.8 193.9L100.7 193.7L101.6 192.9L102.0 192.4L100.8 192.6L100.3 192.5L99.0 192.7L99.7 192.1L99.5 191.9L99.3 191.6L100.6 190.8L99.9 190.7L98.8 190.8L98.7 190.5L98.4 190.3L99.1 189.7L99.5 189.2L98.7 189.2L98.3 189.1L98.5 188.7L98.3 188.4L98.9 187.9L98.2 187.8L98.5 187.4L100.2 186.5L97.9 186.9L98.4 186.5L98.3 186.2L97.4 186.1L97.3 185.9L97.7 185.4L96.9 185.3L96.8 185.0L97.5 184.5L96.5 184.5L96.8 184.1L97.1 183.7L97.9 183.2L97.4 183.0L97.7 182.6L96.4 182.6M96.8 180.3L97.1 179.9L96.0 179.8L96.4 179.5L97.1 179.0L96.0 178.9L98.8 178.1L95.8 178.3L95.7 178.0L95.8 177.7L96.6 177.3L95.6 177.1L95.5 176.8L95.2 176.6L96.3 176.1L95.4 175.9L97.4 175.3L95.4 175.3L96.2 174.9L95.3 174.7L95.5 174.4L96.7 173.9L96.7 173.6L94.4 173.6L94.4 173.3L95.2 172.9L95.1 172.6L94.8 172.3L94.8 172.0L94.8 171.7L95.3 171.4L94.8 171.1L94.7 170.8L94.6 170.5L94.2 170.2L95.7 169.8L95.9 169.5L94.7 169.3L95.3 169.0L95.0 168.7M94.7 166.7L94.6 166.4L95.3 166.1L94.0 165.8L95.3 165.5L94.7 165.1L94.7 164.8L95.0 164.5L95.6 164.3L94.9 163.9L94.4 163.6L95.2 163.3L96.0 163.1L94.5 162.7L95.3 162.4L95.6 162.2L94.4 161.8L96.2 161.6L95.4 161.2L96.2 161.0L96.0 160.7L94.4 160.3L94.4 159.9L95.0 159.7L94.7 159.4L94.9 159.1L95.3 158.8L96.3 158.6L95.1 158.2L97.2 158.1L95.7 157.6L96.1 157.4M95.2 155.0L97.7 155.1L95.6 154.4L96.1 154.2L94.8 153.7L96.4 153.7L96.6 153.4L96.3 153.0L95.5 152.6L96.0 152.4L96.4 152.1L96.1 151.7L96.3 151.5L98.5 151.7L96.1 150.8L96.5 150.6L96.3 150.2L95.7 149.8L96.1 149.6L97.1 149.5L96.6 149.1L96.3 148.7L96.6 148.4L96.3 148.0L97.2 148.0L97.1 147.6L97.4 147.4L99.4 147.6L97.2 146.7M98.4 145.0L98.0 144.6L98.5 144.4L98.1 144.0L98.2 143.7L98.1 143.3L101.3 144.1L100.8 143.6L101.1 143.4L98.7 142.2L98.5 141.9L99.5 141.9L98.0 141.0L99.9 141.4L99.6 141.0L99.6 140.6L100.0 140.5L99.4 139.9L99.6 139.7L100.5 139.7L100.7 139.4L101.2 139.4L100.6 138.8L100.9 138.6M102.9 137.1L101.3 136.0L101.6 135.8L101.3 135.3L102.0 135.3L102.1 135.0L101.9 134.6L102.1 134.3L102.2 134.0L102.9 134.0L103.0 133.7L103.4 133.6L103.6 133.4L104.2 133.4L103.3 132.6L103.4 132.3L104.8 132.7L102.7 131.2L104.1 131.6L104.1 131.2L104.1 130.9M105.8 129.4L107.7 130.2L104.9 128.1L106.3 128.6L105.6 127.8L105.4 127.3L105.9 127.3L107.7 128.1L106.7 127.1L107.4 127.2L106.5 126.2L107.7 126.7L106.6 125.5L107.5 125.8L107.6 125.5L107.9 125.3L108.5 125.4L108.5 125.0L107.8 124.1L109.0 124.6L108.8 124.1M110.1 122.4L110.5 122.3L110.3 121.7L110.2 121.3L111.5 122.0L110.5 120.7L112.1 121.6L111.6 120.8L112.1 120.8L111.8 120.2L113.0 120.9L112.2 119.7L112.8 119.9L112.5 119.2L114.4 120.5L114.9 120.6M115.7 116.7L115.9 116.5L115.5 115.7L116.5 116.2L116.0 115.2L115.7 114.5L116.9 115.3L116.7 114.7L118.1 115.8L117.4 114.6M118.7 112.8L119.3 113.0L119.6 112.9L118.8 111.5L120.9 113.5L120.5 112.6L120.5 112.1M122.2 110.6L122.3 110.2L122.9 110.4L122.9 109.9L123.5 110.2L123.0 109.1L125.6 112.2M125.6 108.6L125.5 107.9L126.3 108.6L126.0 107.6L127.0 108.5L126.8 107.7L128.5 109.8M128.5 105.9L128.9 105.9L129.3 106.1L129.6 106.0L130.4 106.8L129.7 104.9M132.3 104.6L133.1 105.5"/>
<path fill="#111" d="M164.5 135.6L164.7 136.4L164.8 138.2L164.9 137.5L165.1 136.9L165.3 137.2L165.4 137.5L165.6 136.2L165.7 137.8L165.9 136.7L166.0 136.6L166.2 135.9L166.4 136.3L166.6 135.9L166.7 135.8L166.9 135.9L167.1 134.9L167.2 135.8L167.7 132.3L167.6 134.9L167.7 135.6L168.0 134.1L168.3 133.1L168.3 134.9L168.3 135.8L168.4 136.3L168.4 137.5L168.5 137.6L168.6 138.1L168.9 137.2L168.9 138.3L169.3 137.0L169.4 137.2L169.8 136.0L169.8 136.3L170.0 136.6L169.9 137.9L169.9 138.3L170.3 137.3L170.6 136.6L170.5 137.7L170.7 137.5L170.7 138.5L171.0 137.7L171.4 136.5L171.6 136.5L171.5 137.4L172.0 136.2L171.6 138.3L171.9 137.8L172.5 136.4L172.4 137.2L172.5 137.5L172.9 136.7L173.1 136.5L173.1 137.1L172.9 138.2L173.3 137.5L173.6 137.0L173.3 138.3L173.3 138.8L173.4 139.1L173.6 139.0L174.1 138.1L174.4 137.7L175.6 134.9L175.1 136.8L174.8 137.8L174.8 138.2L175.2 137.9L174.8 139.2L176.0 136.5L175.6 137.9L176.0 137.6L175.8 138.3L175.9 138.6L176.2 138.2L176.3 138.4L176.2 139.0L176.7 138.2L177.0 138.1L177.3 137.7L177.3 138.0L177.7 137.7L177.4 138.6L177.7 138.4L178.0 138.1L178.4 137.7L178.6 137.6L178.0 139.2L178.7 138.2L179.2 137.7L179.2 138.0L178.7 139.3L179.8 137.6L178.8 139.8L180.7 136.7L179.8 138.5L179.5 139.5L180.7 137.8L180.0 139.3L179.8 139.9L181.3 137.8L179.7 140.6L180.8 139.1L180.0 140.7L180.9 139.7L180.3 140.9L180.0 141.7L180.3 141.4L180.2 141.8L180.9 141.2L181.7 140.2L182.3 139.5L182.9 139.0L182.5 140.0L184.8 136.9L183.1 139.6L183.6 139.3L182.6 140.9L182.9 140.7L183.2 140.6L182.7 141.6L183.8 140.4L183.4 141.3L183.6 141.2L184.3 140.6L183.2 142.3L183.6 142.0L183.4 142.5L183.3 142.9L183.6 142.7L183.7 142.8L185.3 141.2L184.1 142.8L184.2 143.1L185.0 142.3L183.9 143.9L184.1 143.8L184.7 143.4L186.4 141.8L184.5 144.1L184.9 143.9L185.6 143.4L184.3 145.0L186.3 143.2L185.3 144.4L185.3 144.6L187.3 142.8L185.5 144.9L184.4 146.2L184.8 146.0L185.3 145.7L184.6 146.6L185.5 146.0L185.7 146.0L185.9 146.0L186.1 146.0L186.6 145.8L187.0 145.7L186.4 146.4L183.7 148.7L183.4 148.9L183.5 148.6L182.5 149.3L182.6 149.1L183.3 148.2L182.0 149.2L182.3 148.8L182.2 148.7L180.1 150.5L182.0 148.5L182.2 148.2L180.7 149.5L182.3 147.7L181.9 147.9L182.4 147.2L181.6 147.8L182.5 146.6L182.6 146.4L181.9 146.9L180.6 148.1L181.9 146.5L181.3 147.0L181.8 146.3L182.4 145.3L181.7 145.9L181.9 145.5L182.0 145.1L182.0 145.0L181.4 145.4L181.2 145.4L180.7 145.8L181.2 144.9L181.4 144.5L181.5 144.2L180.8 144.9L180.7 144.7L181.1 143.9L180.8 144.1L178.9 146.4L181.0 143.4L180.7 143.5L181.3 142.5L181.1 142.5L181.3 141.9L180.0 143.5L179.9 143.4L178.5 145.1L179.9 142.9L178.4 144.9L177.2 146.4L177.7 145.5L178.5 144.0L177.8 144.7L178.1 144.1L177.9 144.1L177.6 144.4L178.0 143.5L177.8 143.5L178.2 142.5L178.4 142.1L178.0 142.4L177.7 142.6L176.5 144.4L177.7 142.0L177.1 142.7L177.2 142.4L177.2 142.1L176.9 142.2L176.2 143.4L176.4 142.6L176.0 143.2L176.1 142.6L175.1 144.4L176.5 141.1L175.8 142.4L176.3 140.9L175.3 142.7L175.8 141.2L176.0 140.5L174.7 143.0L175.6 140.8L175.0 141.7L174.7 142.1L174.9 141.2L174.6 141.5L174.7 140.9L174.4 141.4L174.0 141.9L173.7 142.3L173.4 142.7L173.6 141.8L173.6 141.5L173.6 141.1L173.7 140.3L173.5 140.6L173.4 140.5L172.7 141.9L172.6 141.9L172.4 142.2L172.4 141.8L172.4 141.4L172.4 140.9L171.7 142.4L171.7 142.0L172.0 140.6L172.1 139.9L171.8 140.3L171.3 141.7L171.6 140.0L171.3 140.6L171.0 141.1L170.9 140.9L170.9 140.5L170.6 141.0L170.7 140.1L170.6 139.9L169.8 142.7L170.0 141.4L170.0 140.5L169.5 142.3L169.8 140.3L169.5 140.9L169.3 141.3L169.3 140.9L169.1 141.2L169.2 139.8L169.0 140.3L168.9 140.1L168.7 140.3L168.3 141.7L168.1 142.0L168.0 142.1L167.7 143.3L168.0 140.6L168.0 139.4L167.7 140.7L167.5 141.1L167.7 138.6L167.6 138.0L167.4 138.6L167.1 139.7L166.9 140.1L166.9 139.4L166.5 142.2L166.5 140.1L166.5 139.0L166.2 140.2L166.2 139.0L165.8 142.3L165.8 140.0L165.7 140.0L165.5 141.6L165.4 140.7L165.3 140.9L165.1 141.4L165.0 140.9L164.9 141.0L164.7 140.9L164.6 139.8L164.5 139.7ZM188.6 145.8L189.5 145.3L188.5 146.3L187.2 147.6L187.3 147.7L187.0 148.1L188.8 146.9L188.8 147.1L188.4 147.6L188.4 147.8L189.1 147.5L188.7 148.0L188.1 148.6L188.6 148.4L188.6 148.6L189.8 148.0L188.8 148.9L188.9 149.0L191.0 147.8L188.6 149.6L189.8 149.0L188.8 149.8L189.6 149.5L188.8 150.2L188.9 150.3L189.1 150.4L187.9 151.3L189.3 150.6L188.7 151.1L189.0 151.1L189.2 151.2L191.2 150.2L189.3 151.5L189.3 151.7L189.9 151.5L190.1 151.6L190.0 151.8L190.4 151.7L191.3 151.4L189.6 152.5L191.9 151.5L190.2 152.5L191.2 152.2L190.4 152.8L190.8 152.8L190.2 153.2L191.2 152.9L190.7 153.3L191.0 153.4L190.8 153.6L191.3 153.5L192.7 153.1L191.7 153.7L191.5 154.0L191.6 154.1L191.0 154.5L191.3 154.6L192.5 154.2L192.2 154.5L194.5 153.8L192.9 154.6L193.5 154.5L193.6 154.6L193.3 155.0L193.6 155.0L192.9 155.5L192.9 155.6L192.1 156.1L192.2 156.2L193.3 156.0L192.7 156.4L192.6 156.6L193.7 156.4L194.2 156.4L194.7 156.4L193.7 156.9L194.4 156.8L194.6 156.9L195.5 156.8L194.5 157.3L194.0 157.6L193.8 157.9L194.5 157.8L193.5 158.3L194.8 158.1L195.1 158.2L194.6 158.5L193.0 159.0L193.4 159.1L193.6 159.2L193.8 159.3L193.8 159.5L193.9 159.6L193.1 160.0L194.5 159.8L194.6 160.0L195.7 159.9L193.7 160.5L194.8 160.4L197.6 160.1L194.7 160.8L194.4 161.0L194.0 161.2L194.3 161.3L193.3 161.6L193.9 161.7L186.9 162.7L190.2 162.1L190.7 161.9L191.2 161.7L190.4 161.7L191.0 161.4L191.4 161.2L191.1 161.1L190.4 161.1L191.3 160.8L189.4 161.0L190.1 160.7L190.2 160.6L190.8 160.3L191.1 160.1L190.5 160.1L189.0 160.3L189.9 159.9L190.3 159.7L189.9 159.6L189.5 159.6L191.3 159.0L190.7 159.0L188.8 159.4L190.3 158.8L190.8 158.5L191.3 158.2L191.3 158.1L190.5 158.2L190.9 157.9L190.3 157.9L190.6 157.7L190.5 157.6L187.6 158.4L190.1 157.4L188.6 157.8L189.3 157.4L189.5 157.1L188.6 157.3L189.3 156.9L189.7 156.6L190.0 156.4L188.2 156.9L190.1 156.0L189.9 155.9L189.5 156.0L188.8 156.1L188.8 155.9L188.5 155.9L187.6 156.1L185.0 157.1L188.9 155.3L188.0 155.5L187.6 155.5L188.1 155.2L188.2 155.0L187.8 155.0L188.0 154.8L188.2 154.5L186.3 155.3L187.7 154.5L184.7 155.8L187.9 154.1L187.4 154.1L187.7 153.9L187.3 153.9L186.3 154.3L187.2 153.6L186.6 153.8L184.6 154.8L186.9 153.3L187.3 153.0L185.9 153.6L186.1 153.3L186.4 153.0L186.5 152.8L185.5 153.3L185.3 153.2L184.4 153.6L185.4 152.8L185.0 152.9L183.8 153.6L185.8 152.1L186.3 151.7L184.8 152.5L186.8 151.0L184.3 152.5L186.3 151.0L186.5 150.7L185.9 150.9L184.9 151.4L184.7 151.4L185.5 150.7L185.9 150.3L186.2 149.8L186.0 149.8L185.8 149.8L185.5 149.8L185.6 149.6L184.7 150.1L184.9 149.8L184.9 149.6L184.5 149.7L184.3 149.7L184.1 149.7L183.7 149.9ZM192.8 162.8L193.9 162.8L192.6 163.1L192.8 163.2L195.6 163.1L192.5 163.6L194.5 163.5L194.5 163.7L194.0 163.9L193.1 164.1L194.4 164.2L194.5 164.3L194.2 164.5L193.9 164.7L194.5 164.8L195.1 165.0L191.9 165.2L191.7 165.4L191.8 165.5L191.7 165.6L191.1 165.8L192.0 165.9L193.1 166.1L191.6 166.2L192.6 166.4L195.8 166.6L192.9 166.7L191.8 166.8L192.5 167.0L192.2 167.1L192.5 167.3L193.4 167.4L193.8 167.6L192.7 167.7L194.9 168.0L194.9 168.2L193.9 168.3L193.9 168.4L194.1 168.6L193.6 168.7L195.3 169.0L193.2 169.0L192.8 169.1L192.4 169.2L192.9 169.4L193.5 169.6L194.3 169.9L193.9 170.0L193.3 170.1L194.4 170.4L193.6 170.4L193.9 170.6L193.4 170.7L193.6 170.9L194.7 171.2L193.4 171.2L193.4 171.3L193.2 171.4L193.8 171.7L193.4 171.8L192.6 171.8L192.4 171.9L194.3 172.5L193.4 172.4L192.1 172.3L193.1 172.7L193.3 172.9L194.3 173.3L194.3 173.5L194.2 173.6L195.8 174.2L194.0 173.9L194.1 174.1L192.6 173.8L193.5 174.2L193.1 174.3L196.6 175.5L193.7 174.8L192.9 174.7L192.3 174.7L192.8 175.0L192.5 175.1L193.4 175.6L192.0 175.2L192.5 175.6L191.5 175.4L192.0 175.7L192.1 175.9L192.6 176.3L192.4 176.4L188.6 174.9L188.3 174.7L188.9 174.8L188.8 174.6L188.5 174.4L188.6 174.2L186.4 173.4L188.0 173.8L188.1 173.7L189.5 174.0L188.8 173.6L189.9 173.8L190.5 173.8L190.5 173.7L189.0 173.1L189.6 173.1L189.4 172.9L189.2 172.8L190.7 173.0L191.4 173.0L191.2 172.8L191.6 172.8L191.5 172.6L190.4 172.2L188.7 171.6L189.3 171.7L188.6 171.4L188.8 171.3L188.9 171.2L189.3 171.1L189.3 171.0L188.1 170.6L189.4 170.7L189.4 170.6L189.9 170.5L188.0 170.1L190.3 170.3L190.4 170.2L191.0 170.2L190.4 169.9L189.5 169.6L190.4 169.6L190.5 169.5L189.1 169.2L189.5 169.1L189.6 169.0L189.5 168.9L188.5 168.6L189.3 168.6L190.4 168.5L190.3 168.4L190.3 168.3L189.9 168.1L191.1 168.0L190.9 167.9L189.7 167.7L189.0 167.5L189.3 167.4L189.1 167.2L189.8 167.1L189.1 167.0L186.0 166.7L189.1 166.7L189.3 166.6L188.7 166.4L187.0 166.3L188.6 166.2L188.2 166.1L189.1 165.9L188.2 165.8L187.4 165.7L188.5 165.6L188.5 165.4L188.5 165.3L187.8 165.2L186.7 165.1L190.3 164.8L191.1 164.7L190.1 164.6L189.9 164.5L190.5 164.3L189.7 164.2L190.5 164.0L190.1 163.9L187.4 164.0L189.3 163.7L188.3 163.7L186.9 163.7L189.4 163.3L190.0 163.1ZM192.8 177.4L192.3 177.4L191.6 177.3L191.4 177.4L192.0 177.8L192.9 178.3L191.1 177.7L189.9 177.4L190.4 177.8L192.8 179.0L191.1 178.4L192.5 179.2L191.1 178.7L190.8 178.8L190.3 178.7L190.9 179.2L190.2 179.0L190.9 179.5L191.1 179.8L191.6 180.2L193.0 181.2L190.8 180.2L190.5 180.2L190.8 180.5L191.1 180.9L191.6 181.4L191.1 181.3L189.9 180.7L190.6 181.4L190.7 181.6L190.1 181.4L190.7 182.0L190.6 182.1L190.0 181.9L190.5 182.4L190.9 182.8L192.8 184.2L189.7 182.4L189.6 182.6L190.3 183.2L189.2 182.7L190.0 183.4L191.0 184.3L190.2 183.9L189.3 183.5L191.5 185.3L188.7 183.5L190.2 184.8L187.8 183.2L187.3 183.1L187.2 183.1L188.3 184.2L188.1 184.2L188.5 184.7L187.6 184.3L188.7 185.3L187.2 184.4L187.5 184.7L187.5 184.9L187.4 185.1L184.0 182.3L183.5 181.7L183.9 181.8L184.4 182.1L184.2 181.7L184.9 182.1L186.0 182.8L185.4 182.2L185.6 182.2L184.8 181.3L185.0 181.3L184.8 181.0L185.8 181.6L186.3 181.8L187.3 182.3L186.5 181.6L186.8 181.6L187.6 182.0L187.4 181.7L186.9 181.1L186.1 180.4L187.1 181.0L186.2 180.2L187.9 181.1L187.1 180.5L187.6 180.6L187.3 180.2L186.0 179.3L187.2 179.8L184.4 178.0L188.1 180.0L186.5 179.0L186.7 178.9L187.3 179.1L187.3 178.9L185.3 177.6L187.7 178.8L187.5 178.6L187.2 178.2L187.0 178.0L188.1 178.4L186.8 177.6L187.1 177.6L187.6 177.7L186.4 177.0L187.2 177.2L188.1 177.5L188.0 177.3L186.7 176.5L186.9 176.5L187.3 176.5L187.3 176.4L186.8 176.0L187.8 176.3L188.2 176.3L188.5 176.3L188.0 175.9L186.5 175.2L189.2 176.1L188.1 175.6ZM186.8 185.8L186.7 185.9L186.4 185.8L187.4 186.9L187.1 186.9L185.9 186.0L185.9 186.2L186.5 186.9L186.1 186.8L186.4 187.3L186.0 187.1L186.2 187.6L185.6 187.2L186.1 187.9L187.4 189.5L186.8 189.1L185.4 187.9L185.4 188.2L185.8 188.8L185.8 189.1L185.6 189.1L186.2 189.9L186.2 190.2L186.1 190.3L185.7 190.1L186.1 190.8L185.3 190.2L184.7 189.8L183.8 189.0L184.3 189.8L185.8 191.8L183.0 188.7L183.1 189.1L183.1 189.4L183.6 190.2L182.7 189.4L182.1 188.8L182.3 189.4L182.1 189.3L181.7 189.1L181.1 188.4L181.7 189.6L181.8 190.0L182.2 190.8L182.9 192.0L182.4 191.7L182.1 191.5L182.0 191.6L181.6 191.3L181.0 190.8L180.7 190.6L180.4 190.4L180.3 190.5L180.6 191.2L180.4 191.2L179.6 190.3L179.0 189.6L179.7 191.0L179.3 190.6L177.1 187.0L176.6 185.9L177.5 187.1L178.1 187.8L178.4 188.0L178.6 188.2L178.7 188.0L178.8 187.9L178.0 186.5L179.6 188.6L179.2 187.9L179.6 188.2L180.1 188.6L179.8 188.0L179.5 187.3L179.3 186.7L179.6 187.0L179.5 186.6L179.4 186.2L179.4 186.1L179.6 186.1L179.9 186.2L180.3 186.5L180.8 186.9L180.9 186.9L179.8 185.2L181.3 186.9L181.1 186.4L181.7 187.0L180.8 185.6L181.5 186.2L182.2 186.9L181.1 185.4L183.5 187.8L182.7 186.8L183.6 187.5L181.4 184.9L182.6 186.0L182.9 186.1L183.7 186.7L181.7 184.5L183.6 186.3L183.5 185.9L181.9 184.1L183.8 185.8L183.8 185.6L183.8 185.4L182.8 184.2L183.9 185.1L182.7 183.8L182.9 183.7L184.1 184.7L183.7 184.2L181.7 182.1L183.5 183.6L181.5 181.5L183.4 183.1L183.7 183.2L184.0 183.3ZM179.0 191.8L179.0 192.1L178.5 191.5L178.6 192.1L178.2 191.6L178.3 192.1L179.1 193.9L177.9 192.1L178.1 192.8L178.2 193.4L178.1 193.6L178.5 194.6L178.6 195.2L178.2 194.7L178.7 196.3L177.9 194.9L178.5 196.6L179.1 198.4L177.6 195.4L177.2 195.1L176.4 193.6L176.2 193.6L175.7 192.8L176.1 194.1L176.1 194.7L175.7 193.9L174.6 191.6L174.3 191.3L174.3 191.7L174.6 193.0L174.1 192.0L174.1 192.4L174.7 194.6L174.0 192.9L174.0 193.5L174.0 194.0L174.0 194.5L174.2 195.5L173.6 194.3L173.6 194.6L173.5 194.8L173.3 194.9L173.3 195.2L173.0 194.9L172.7 194.6L172.5 194.4L172.6 195.4L172.0 193.6L172.0 194.4L172.2 195.5L171.8 194.8L171.8 195.4L171.6 195.1L171.7 196.4L171.2 194.8L171.5 196.6L171.0 195.6L171.4 197.7L170.7 195.4L169.9 191.9L170.1 192.2L170.3 192.2L170.2 191.3L170.1 190.4L170.7 192.2L170.9 192.3L171.0 192.1L170.4 189.2L171.3 192.2L171.1 191.0L171.1 190.5L171.0 189.6L171.6 191.1L171.7 191.1L172.0 191.6L172.1 191.6L172.1 191.1L172.1 190.5L172.4 190.9L171.9 189.0L172.8 191.2L173.0 191.6L172.7 190.2L172.8 190.1L172.8 189.6L173.0 189.8L173.1 189.6L173.1 189.2L172.6 187.8L172.9 188.2L173.3 188.9L173.4 188.6L172.7 186.8L173.9 189.3L173.6 188.2L174.4 189.7L174.7 190.1L174.3 188.9L175.5 191.3L175.8 191.4L176.4 192.6L176.4 192.2L176.6 192.2L175.8 190.1L176.8 191.9L176.8 191.7L176.5 190.6L176.6 190.4L176.1 189.3L176.3 189.3L176.7 189.8L176.6 189.3L176.6 189.1L175.6 186.8L176.6 188.3L176.9 188.8L177.7 189.8L177.5 189.2ZM169.8 196.0L169.5 195.6L169.5 196.0L169.3 196.2L169.1 195.7L169.1 196.7L169.0 197.2L168.7 196.5L168.6 197.0L168.5 197.1L168.3 197.1L168.1 197.0L168.1 197.8L167.8 197.3L167.7 197.1L167.7 198.7L167.3 197.4L167.1 196.9L167.0 196.6L166.7 195.8L166.6 195.8L166.5 196.6L166.3 195.8L166.0 194.8L165.9 195.6L165.8 196.6L165.8 199.1L165.5 197.2L165.4 198.2L165.2 196.5L165.0 196.0L164.8 195.3L164.7 196.7L164.5 195.8L164.4 196.4L164.2 195.8L164.1 195.7L163.9 198.7L163.7 196.2L163.6 196.8L163.5 195.5L163.2 197.6L163.1 197.6L163.0 195.7L162.9 195.1L162.6 196.5L162.5 195.7L162.3 196.2L162.3 194.9L161.9 197.7L161.9 195.0L161.7 196.1L161.5 196.7L161.4 195.8L161.2 196.6L161.6 191.9L161.7 193.1L161.8 192.8L162.0 192.3L162.2 191.4L162.3 192.6L162.5 191.4L162.6 192.6L162.8 191.7L162.9 192.1L163.1 191.0L163.1 192.5L163.3 192.2L163.5 190.8L163.5 192.6L163.7 191.4L163.8 192.7L163.9 193.0L164.1 192.7L164.2 192.3L164.4 190.3L164.5 192.8L164.6 192.7L164.7 190.0L164.9 193.4L165.1 193.0L165.2 193.1L165.4 192.9L165.5 193.6L165.6 193.1L165.7 191.7L165.9 191.8L166.1 193.1L166.2 192.6L166.3 192.3L166.4 192.2L166.6 192.5L166.7 192.1L167.0 193.8L167.0 191.9L167.2 193.3L167.3 192.6L167.6 194.2L167.7 193.6L167.8 193.1L167.8 192.4L168.1 193.5L168.1 192.2L168.4 193.4L168.4 192.6L168.6 192.8L168.7 192.7L169.0 193.2L168.9 192.1L169.0 191.8ZM159.8 198.7L160.1 195.9L160.0 195.5L159.8 195.9L159.7 195.2L159.6 194.9L159.3 195.9L159.0 196.4L158.8 196.7L158.8 196.0L158.9 194.6L158.5 195.6L158.3 195.7L158.1 196.2L158.0 195.9L157.8 195.8L157.7 195.8L157.6 195.3L157.2 196.5L157.0 196.4L156.9 196.1L156.9 195.5L156.4 196.7L156.4 196.3L156.2 196.2L155.9 196.7L155.4 197.9L155.6 196.7L155.3 197.1L155.5 195.9L155.2 196.4L155.2 195.6L155.2 195.2L155.0 195.3L154.7 195.7L154.1 197.1L154.3 195.7L154.1 196.0L154.2 195.1L154.1 195.0L153.8 195.3L153.6 195.2L153.4 195.3L153.0 196.0L151.9 198.4L154.1 192.6L154.5 192.1L154.7 191.8L155.0 191.6L155.0 191.9L155.3 191.6L155.6 190.9L155.6 191.4L155.4 192.4L156.5 189.6L156.4 190.4L156.0 191.9L156.8 190.2L156.1 192.8L156.0 193.5L156.5 192.4L156.2 194.1L156.5 193.6L156.8 192.9L157.6 190.6L157.6 191.1L157.4 192.5L157.4 192.8L157.7 192.4L157.7 192.9L157.9 192.7L158.4 191.3L158.3 192.1L158.7 191.2L158.8 191.3L158.7 192.4L158.7 193.4L158.9 192.7L159.7 189.4L159.9 189.0L159.5 192.1L159.6 192.4L159.6 193.3L159.8 192.7L160.1 191.5L160.3 191.2L160.4 191.7L160.5 192.1L160.5 192.6L160.6 193.2ZM152.0 195.4L152.6 193.4L152.4 193.5L152.1 193.9L151.7 194.4L151.8 193.8L150.7 195.8L151.4 193.8L151.5 193.2L151.4 193.0L150.5 194.6L150.8 193.7L151.3 192.3L150.5 193.5L150.8 192.5L150.3 193.1L150.4 192.6L150.1 192.9L149.5 193.6L150.4 191.7L149.4 193.1L149.9 191.9L149.8 191.8L150.1 191.0L149.7 191.4L148.3 193.4L149.3 191.4L149.6 190.7L148.7 191.8L148.5 191.8L148.2 192.0L148.2 191.7L147.9 192.0L148.1 191.3L146.6 193.3L147.2 192.1L147.3 191.6L146.3 192.8L146.7 191.9L147.5 190.5L146.1 192.3L147.0 190.7L146.8 190.6L146.5 190.9L146.9 190.0L149.1 187.0L148.9 187.5L149.6 186.7L149.0 187.8L148.5 188.7L149.7 187.3L149.2 188.3L149.5 188.1L150.4 186.9L149.4 188.8L149.6 188.7L149.6 188.9L149.8 188.8L149.9 188.9L150.4 188.5L150.3 188.8L150.7 188.6L152.2 186.2L151.3 188.1L151.2 188.4L152.2 187.1L151.5 188.4L151.8 188.3L151.5 189.1L151.6 189.2L151.6 189.4L151.7 189.5L151.6 190.0L151.8 190.0L151.9 190.0L152.6 189.0L152.5 189.5L152.7 189.5L153.1 188.9L152.6 190.2L153.5 188.8L153.0 190.1L152.7 191.1L153.3 190.1L153.4 190.1L153.0 191.5L153.6 190.3L153.7 190.5L154.0 190.3L153.8 191.1ZM146.1 189.4L146.0 189.3L146.0 189.1L145.6 189.2L145.5 189.2L145.8 188.6L145.0 189.3L145.2 188.8L146.0 187.6L146.1 187.3L146.2 187.0L145.3 187.7L145.4 187.4L145.2 187.4L144.9 187.5L142.9 189.5L144.2 187.8L143.3 188.5L144.7 186.8L143.7 187.7L144.0 187.1L143.7 187.2L141.4 189.3L143.2 187.2L143.3 187.0L143.0 187.0L143.7 186.1L144.2 185.5L143.1 186.3L142.7 186.5L142.7 186.2L142.9 185.8L143.7 184.9L142.6 185.7L142.0 186.1L142.6 185.3L142.1 185.6L142.5 185.0L141.6 185.6L141.5 185.5L140.8 185.8L141.1 185.3L141.2 185.1L144.2 182.6L143.9 183.0L143.4 183.7L144.2 183.2L144.8 182.8L145.0 182.8L145.4 182.7L144.7 183.4L144.9 183.5L147.6 181.2L146.8 182.0L145.2 183.7L146.6 182.6L145.9 183.5L146.1 183.4L147.2 182.6L147.1 182.8L145.8 184.3L146.1 184.2L146.3 184.2L146.7 184.0L145.9 184.9L146.4 184.6L146.2 185.0L147.3 184.1L146.6 185.0L146.7 185.1L146.4 185.7L147.1 185.1L147.5 184.8L149.7 182.6L147.7 185.0L148.1 184.7L148.5 184.5L148.0 185.2L147.9 185.6L148.4 185.2L148.2 185.6L148.1 186.0L148.1 186.1L149.5 184.7L148.3 186.4L148.5 186.3ZM140.9 184.2L140.9 184.0L140.4 184.1L140.3 184.1L140.5 183.7L139.9 184.0L140.5 183.3L139.8 183.6L140.0 183.3L138.5 184.1L138.4 184.0L139.6 183.0L139.7 182.7L138.1 183.7L138.2 183.4L138.7 182.8L138.8 182.6L139.6 181.9L138.8 182.2L139.3 181.7L136.4 183.3L139.4 181.3L139.6 181.0L139.7 180.8L140.0 180.4L139.6 180.4L139.0 180.6L139.2 180.4L138.2 180.7L140.9 179.1L140.2 179.3L141.1 178.6L140.8 178.6L140.4 178.7L139.9 178.8L138.3 179.5L139.2 178.8L139.0 178.8L138.0 179.1L141.9 177.2L145.2 175.6L145.3 175.7L143.2 176.9L142.6 177.4L143.9 176.8L143.3 177.3L145.3 176.3L144.1 177.1L143.3 177.7L144.1 177.4L142.6 178.4L144.7 177.4L142.4 178.8L143.0 178.6L143.6 178.4L144.9 177.8L143.0 179.1L142.0 179.8L142.3 179.9L142.0 180.2L142.0 180.4L141.8 180.6L141.1 181.2L142.2 180.7L142.6 180.6L142.6 180.8L142.5 181.0L142.6 181.1L142.6 181.3L145.4 179.4L144.6 180.1L144.8 180.2L142.7 181.9L143.1 181.8L143.1 181.9L143.2 182.1L143.4 182.0L143.7 182.0ZM136.9 178.6L137.0 178.4L137.4 178.0L137.4 177.9L137.4 177.7L136.6 177.9L135.9 178.0L135.4 178.1L135.9 177.7L132.3 179.0L135.3 177.6L135.8 177.2L136.0 176.9L135.5 177.0L136.3 176.5L136.8 176.2L134.1 177.0L136.4 176.0L136.0 176.0L135.0 176.1L133.9 176.3L131.8 176.9L132.3 176.5L135.0 175.4L135.5 175.1L135.3 175.0L136.2 174.6L134.0 175.1L135.7 174.4L136.6 174.0L137.4 173.6L137.2 173.5L137.3 173.3L137.7 173.0L137.1 173.1L137.0 172.9L136.7 172.9L135.4 173.0L140.7 171.7L139.7 172.1L141.3 171.8L139.9 172.3L140.4 172.3L141.1 172.3L140.5 172.6L140.5 172.7L140.3 172.9L140.2 173.1L142.2 172.6L139.4 173.6L139.2 173.8L139.2 174.0L138.7 174.2L137.6 174.8L138.7 174.5L137.5 175.1L139.4 174.6L139.3 174.8L139.6 174.8L143.3 173.6L139.9 175.0L140.4 175.0L139.2 175.6L139.5 175.6L138.7 176.1L138.5 176.3L140.0 175.9L139.5 176.2L139.9 176.2L139.9 176.3L140.5 176.2L141.3 176.0L141.2 176.2L140.4 176.7L140.6 176.8L140.7 176.9ZM134.4 172.3L133.1 172.4L133.5 172.2L133.8 172.0L133.6 171.8L133.0 171.8L131.5 171.9L134.6 171.2L134.5 171.0L133.9 171.0L133.9 170.8L132.5 170.8L131.8 170.8L133.1 170.4L131.5 170.5L133.3 170.1L131.8 170.1L133.8 169.7L134.1 169.5L132.2 169.5L132.4 169.3L132.4 169.2L131.8 169.0L132.6 168.8L132.9 168.6L133.2 168.4L133.0 168.3L131.7 168.2L132.7 168.0L132.8 167.8L133.2 167.6L131.8 167.5L132.7 167.3L137.1 167.1L137.9 167.2L136.9 167.4L136.6 167.6L137.6 167.7L137.9 167.8L136.0 168.1L136.5 168.2L136.2 168.3L135.5 168.5L135.0 168.7L137.6 168.6L137.5 168.8L137.0 169.0L138.5 169.0L136.5 169.3L137.4 169.4L136.6 169.6L135.9 169.9L136.3 170.0L136.0 170.2L136.7 170.2L137.4 170.2L137.1 170.4L137.2 170.6L137.9 170.6L137.5 170.8L141.0 170.3L137.9 171.0L137.7 171.2L137.2 171.4L136.6 171.7L137.3 171.7ZM134.8 166.3L133.3 166.1L135.2 166.0L134.7 165.8L134.7 165.7L134.5 165.5L134.0 165.3L134.6 165.2L134.4 165.0L133.8 164.9L133.8 164.7L133.9 164.5L134.2 164.4L133.7 164.2L133.4 164.0L134.2 163.9L131.1 163.5L134.0 163.6L133.5 163.4L133.8 163.3L134.4 163.1L133.8 162.9L134.0 162.8L132.9 162.5L133.5 162.4L134.6 162.4L134.4 162.2L139.2 162.8L137.4 162.7L137.6 162.9L136.8 162.9L137.5 163.2L137.4 163.3L137.7 163.5L136.9 163.5L137.0 163.7L138.5 163.9L138.1 164.1L137.0 164.1L137.6 164.3L137.2 164.4L137.2 164.6L137.6 164.7L137.5 164.9L137.1 165.0L137.8 165.1L137.7 165.3L137.7 165.4L138.6 165.6L138.3 165.7L138.3 165.8L137.9 166.0L137.5 166.1L137.9 166.3ZM134.5 161.3L135.1 161.2L135.3 161.1L134.7 160.8L133.3 160.4L132.5 160.1L136.1 160.6L134.9 160.2L135.6 160.2L135.2 159.9L135.5 159.8L135.3 159.6L136.1 159.7L133.5 158.9L135.7 159.3L135.6 159.1L135.4 158.9L136.0 158.9L135.2 158.5L135.7 158.5L135.3 158.2L136.1 158.3L136.8 158.3L136.5 158.1L140.0 159.0L140.8 159.4L140.4 159.4L139.1 159.2L140.0 159.6L140.0 159.7L140.1 159.9L140.1 160.0L140.2 160.2L142.2 160.8L139.5 160.3L140.2 160.6L138.8 160.4L139.1 160.6L139.6 160.9L138.3 160.7L138.6 160.9L142.6 161.8L138.4 161.2L138.9 161.4L138.3 161.4L139.4 161.8L139.4 161.9L138.2 161.8ZM136.3 157.1L135.8 156.8L136.0 156.7L134.4 156.0L136.6 156.5L136.6 156.4L135.9 156.0L133.0 154.8L135.9 155.6L135.2 155.2L133.4 154.3L135.8 155.1L136.1 155.1L136.2 154.9L136.3 154.8L136.9 154.8L136.1 154.4L133.5 153.1L135.8 153.9L136.4 154.0L137.8 154.6L137.2 154.5L137.4 154.7L138.0 155.1L138.3 155.4L138.0 155.5L138.3 155.7L137.7 155.7L137.8 155.9L137.2 155.8L137.3 156.0L137.6 156.3L138.6 156.8L137.3 156.5L138.2 156.9L140.5 157.9L138.7 157.4L139.8 157.9L137.9 157.4L138.1 157.7ZM136.9 153.1L137.6 153.2L136.8 152.7L137.5 152.8L137.7 152.8L137.7 152.6L138.4 152.7L138.1 152.4L137.6 152.0L138.2 152.2L138.5 152.1L138.2 151.8L136.9 150.9L135.3 149.8L137.9 151.1L137.1 150.5L138.7 151.2L138.1 150.7L139.7 151.6L142.2 153.2L139.2 151.6L139.3 151.9L139.2 152.0L139.5 152.3L140.1 152.9L140.5 153.2L139.6 152.9L139.7 153.1L139.6 153.2L140.0 153.6L140.1 153.8L139.2 153.5L139.3 153.7L138.4 153.5L139.3 154.1L140.9 155.0ZM139.3 150.3L140.1 150.6L139.9 150.4L140.4 150.5L140.4 150.4L140.3 150.1L139.9 149.6L140.2 149.7L140.5 149.7L141.1 149.9L141.5 150.0L141.6 149.9L141.4 149.6L139.6 148.1L140.9 148.9L140.6 148.4L140.6 148.3L141.6 148.8L143.3 150.1L142.6 149.7L141.9 149.4L142.8 150.3L142.6 150.3L142.8 150.6L143.1 150.9L144.8 152.4L142.3 150.7L142.3 150.9L142.3 151.1L143.4 152.0L141.5 150.9L143.1 152.1L141.9 151.5L142.4 152.0L141.9 151.8L141.5 151.7ZM141.2 147.4L141.6 147.5L142.0 147.6L141.9 147.3L141.5 146.8L141.5 146.6L142.6 147.4L142.8 147.3L141.5 146.0L143.5 147.5L143.2 147.1L143.5 147.2L143.1 146.6L144.0 147.5L144.5 148.0L144.4 148.1L144.5 148.4L144.2 148.4L144.1 148.5L143.6 148.3L142.8 147.7L142.7 147.8L143.0 148.3L145.1 150.2L144.0 149.4L142.7 148.6Z"/>
<path fill="none" stroke="#222" stroke-width="0.55" d="M135.8 161.5L135.2 161.2L135.7 161.1L139.8 161.7L137.6 161.1L135.9 160.6L135.2 160.3L136.3 160.3L136.0 160.1L136.0 159.9L138.2 160.2L138.2 160.1L137.2 159.6L135.2 159.0L133.7 158.4L137.2 159.1L136.2 158.7L134.7 158.1L131.5 157.0L135.7 158.0L136.3 158.0L134.7 157.3L138.4 158.2L136.3 157.4L136.2 157.2L137.4 157.4L138.6 157.6L133.7 155.8L136.8 156.6L138.7 157.1L136.8 156.3L137.1 156.2L138.4 156.5L136.1 155.4L136.0 155.2L135.1 154.6L136.5 155.0L134.5 154.0L134.5 153.8L136.6 154.4L136.7 154.3L137.0 154.2L138.5 154.7L138.7 154.6L139.8 154.9L140.9 155.2L139.8 154.5L137.7 153.3L139.6 154.1L139.2 153.7L138.2 153.0L136.9 152.1L136.4 151.7L136.3 151.4L138.9 152.5L139.7 152.8L136.1 150.6L138.1 151.5L140.5 152.6L139.5 151.9L139.7 151.8L136.5 149.7L135.6 149.0L139.2 150.9L140.4 151.4L140.7 151.4L140.7 151.2L139.0 149.9L141.5 151.3L140.4 150.4L136.3 147.5L139.4 149.3L140.8 150.1L140.2 149.4L139.5 148.7L142.2 150.4L141.4 149.6L139.4 147.9L140.2 148.3L139.1 147.3L141.9 149.1L142.1 149.0L140.9 147.9L142.5 148.9L142.7 148.9L142.3 148.3L143.0 148.7L143.2 148.6L143.9 149.0L141.4 146.7L140.5 145.7L139.4 144.5L144.7 148.8L143.6 147.6L144.3 148.1L144.6 148.1L145.2 148.4L143.6 146.8L145.4 148.2L143.6 146.2L143.4 145.8L143.9 146.0L144.3 146.3L144.3 146.0L143.8 145.2L143.7 144.8L144.2 145.1L143.9 144.6L143.7 144.1L145.4 145.7L145.6 145.6L147.3 147.3L145.9 145.4L145.3 144.5L145.9 144.9L147.6 146.6L146.1 144.7L145.7 143.9L146.3 144.4L147.8 145.9L147.3 145.0L144.5 141.3L144.8 141.3L146.0 142.5L147.6 144.3L145.6 141.4L147.1 143.1L147.2 142.9L148.6 144.6L147.6 142.8L147.5 142.4L146.7 141.0L147.5 141.8L146.7 140.3L146.7 140.0L146.3 139.1L148.9 142.6L147.9 140.7L148.7 141.6L147.5 139.5L146.3 137.2L147.4 138.6L149.1 141.0L150.2 142.5L150.1 141.9L149.6 140.9L149.3 139.9L150.9 142.3L150.5 141.3L149.2 138.5L148.5 136.8L150.1 139.5L150.9 140.6L152.9 144.1L151.5 140.9L152.0 141.7L153.2 143.6L151.9 140.6L152.3 141.0L151.7 139.4L153.0 141.7L151.7 138.6L152.3 139.3"/>
<path stroke="#fff" stroke-width="1.0" d="M164.3 152.0L164.0 92.8M175.0 156.9L220.1 118.6M178.2 164.3L236.9 157.0M177.3 171.1L232.5 192.5M174.9 175.1L219.8 213.7M171.4 178.1L201.2 229.2M167.0 179.7L178.2 237.9M162.6 179.9L155.2 238.6M159.0 179.0L136.7 233.8M155.8 177.1L120.0 224.3M153.3 174.7L107.0 211.5M151.6 172.0L98.1 197.3M150.6 169.0L92.8 181.9M150.3 166.3L91.1 167.5M150.5 163.9L91.9 155.2M150.9 161.9L94.3 144.5M151.6 160.2L97.8 135.5M152.4 158.7L101.9 127.8M153.3 157.3L106.8 120.7M154.4 156.1L112.4 114.4M155.1 155.5L116.1 110.9M155.7 154.9L119.4 108.2M156.4 154.5L122.7 105.7M157.0 154.1L126.2 103.5M157.7 153.7L129.8 101.4"/>
<circle cx="164.3" cy="166.0" r="43.85" fill="none" stroke="#fff" stroke-width="0.85"/>
<circle cx="164.3" cy="166.0" r="14.3" fill="#fff"/>
<text x="6.9" y="13.9" font-family="Liberation Sans, sans-serif" font-size="10" fill="#222">A</text>
<text x="340.1" y="13.9" font-family="Liberation Sans, sans-serif" font-size="10" fill="#222">B</text>
<path fill="#0096c8" stroke="#fff" stroke-width="0.6" d="M429.5 97.0L429.5 13.7A83.3 83.3 0 0 1 490.3 154.0Z"/>
<path fill="#ff5050" stroke="#fff" stroke-width="0.6" d="M429.5 97.0L490.3 154.0A83.3 83.3 0 0 1 428.7 180.3Z"/>
<path fill="#ff9a3a" stroke="#fff" stroke-width="0.6" d="M429.5 97.0L428.7 180.3A83.3 83.3 0 0 1 381.1 164.8Z"/>
<path fill="#00b44b" stroke="#fff" stroke-width="0.6" d="M429.5 97.0L381.1 164.8A83.3 83.3 0 0 1 351.5 126.3Z"/>
<path fill="#b47a73" stroke="#fff" stroke-width="0.6" d="M429.5 97.0L351.5 126.3A83.3 83.3 0 0 1 348.4 77.9Z"/>
<path fill="#f597c4" stroke="#fff" stroke-width="0.6" d="M429.5 97.0L348.4 77.9A83.3 83.3 0 0 1 361.0 49.6Z"/>
<path fill="#9e9e9e" stroke="#fff" stroke-width="0.6" d="M429.5 97.0L361.0 49.6A83.3 83.3 0 0 1 379.1 30.7Z"/>
<path fill="#be88d2" stroke="#fff" stroke-width="0.6" d="M429.5 97.0L379.1 30.7A83.3 83.3 0 0 1 402.1 18.3Z"/>
<path fill="#c8c83a" stroke="#fff" stroke-width="0.6" d="M429.5 97.0L402.1 18.3A83.3 83.3 0 0 1 414.8 15.0Z"/>
<path fill="#1ec3d2" stroke="#fff" stroke-width="0.6" d="M429.5 97.0L414.8 15.0A83.3 83.3 0 0 1 422.9 14.0Z"/>
<path fill="#b4cde8" stroke="#fff" stroke-width="0.6" d="M429.5 97.0L422.9 14.0A83.3 83.3 0 0 1 429.5 13.7Z"/>
<text x="348" y="206.2" font-family="Liberation Sans, sans-serif" font-size="7" fill="#111">Subsystem (subsystems, Genes)</text>
<rect x="347.3" y="213.00" width="6.2" height="6" fill="#1f7ac0"/>
<text x="357.3" y="218.20" font-family="Liberation Sans, sans-serif" font-size="6.25" fill="#111">Metabolism (118, 1100)</text>
<rect x="347.3" y="222.45" width="6.2" height="6" fill="#ee2028"/>
<text x="357.3" y="227.65" font-family="Liberation Sans, sans-serif" font-size="6.25" fill="#111">Protein Processing (42, 232)</text>
<rect x="347.3" y="231.90" width="6.2" height="6" fill="#ff8010"/>
<text x="357.3" y="237.10" font-family="Liberation Sans, sans-serif" font-size="6.25" fill="#111">Energy (31, 291)</text>
<rect x="347.3" y="241.35" width="6.2" height="6" fill="#1ea03c"/>
<text x="357.3" y="246.55" font-family="Liberation Sans, sans-serif" font-size="6.25" fill="#111">Membrane transport (30, 273)</text>
<rect x="347.3" y="250.80" width="6.2" height="6" fill="#8c5048"/>
<text x="357.3" y="256.00" font-family="Liberation Sans, sans-serif" font-size="6.25" fill="#111">Stress response, defense, virulence (30, 174)</text>
<rect x="347.3" y="260.25" width="6.2" height="6" fill="#ee70bb"/>
<text x="357.3" y="265.45" font-family="Liberation Sans, sans-serif" font-size="6.25" fill="#111">DNA processing (19, 100)</text>
<rect x="347.3" y="269.70" width="6.2" height="6" fill="#7f7f7f"/>
<text x="357.3" y="274.90" font-family="Liberation Sans, sans-serif" font-size="6.25" fill="#111">RNA processing (16, 89)</text>
<rect x="347.3" y="279.15" width="6.2" height="6" fill="#9467bd"/>
<text x="357.3" y="284.35" font-family="Liberation Sans, sans-serif" font-size="6.25" fill="#111">Cellular Processes (16, 182)</text>
<rect x="347.3" y="288.60" width="6.2" height="6" fill="#bcbd22"/>
<text x="357.3" y="293.80" font-family="Liberation Sans, sans-serif" font-size="6.25" fill="#111">Cell envelope (8, 82)</text>
<rect x="347.3" y="298.05" width="6.2" height="6" fill="#17becf"/>
<text x="357.3" y="303.25" font-family="Liberation Sans, sans-serif" font-size="6.25" fill="#111">Miscellaneous (5, 19)</text>
<rect x="347.3" y="307.50" width="6.2" height="6" fill="#aec7e8"/>
<text x="357.3" y="312.70" font-family="Liberation Sans, sans-serif" font-size="6.25" fill="#111">Regulation and cell signaling (4, 15)</text>
</svg>
</body></html>
